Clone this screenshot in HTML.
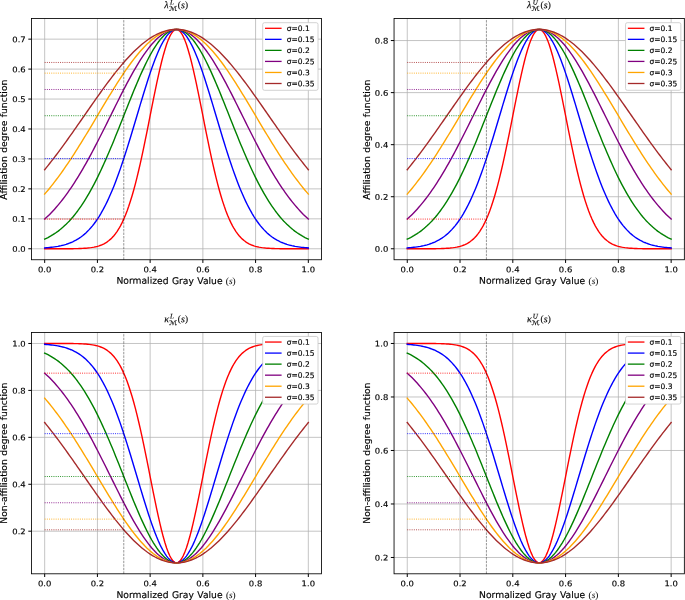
<!DOCTYPE html>
<html><head><meta charset="utf-8"><title>Affiliation and non-affiliation degree functions</title>
<style>html,body{margin:0;padding:0;background:#fff}svg{display:block}text{stroke:#000;stroke-width:0.16px;paint-order:stroke}.m text{stroke-width:0.13px}text .m{stroke-width:0.06px}</style></head>
<body>
<svg width="685" height="600" viewBox="0 0 685 600">
<rect width="685" height="600" fill="#fff"/>
<g>
<path d="M44.68 18.45V259.75M97.41 18.45V259.75M150.14 18.45V259.75M202.86 18.45V259.75M255.59 18.45V259.75M308.32 18.45V259.75M31.50 248.78H321.50M31.50 218.84H321.50M31.50 188.89H321.50M31.50 158.94H321.50M31.50 128.99H321.50M31.50 99.05H321.50M31.50 69.10H321.50M31.50 39.15H321.50" stroke="#b0b0b0" stroke-width="0.75" fill="none"/>
<polyline points="44.68,248.78 46.33,248.78 47.98,248.78 49.62,248.78 51.27,248.78 52.92,248.78 54.57,248.78 56.22,248.78 57.86,248.77 59.51,248.77 61.16,248.77 62.81,248.76 64.45,248.76 66.10,248.75 67.75,248.74 69.40,248.73 71.05,248.71 72.69,248.69 74.34,248.66 75.99,248.63 77.64,248.59 79.28,248.54 80.93,248.48 82.58,248.40 84.23,248.30 85.88,248.19 87.52,248.05 89.17,247.87 90.82,247.67 92.47,247.42 94.11,247.12 95.76,246.77 97.41,246.35 99.06,245.85 100.70,245.26 102.35,244.58 104.00,243.78 105.65,242.86 107.30,241.79 108.94,240.55 110.59,239.14 112.24,237.54 113.89,235.71 115.53,233.65 117.18,231.33 118.83,228.73 120.48,225.84 122.12,222.63 123.77,219.09 125.42,215.21 127.07,210.96 128.72,206.34 130.36,201.34 132.01,195.96 133.66,190.20 135.31,184.07 136.95,177.57 138.60,170.72 140.25,163.55 141.90,156.08 143.55,148.35 145.19,140.40 146.84,132.28 148.49,124.04 150.14,115.73 151.78,107.43 153.43,99.19 155.08,91.09 156.73,83.20 158.38,75.59 160.02,68.34 161.67,61.52 163.32,55.19 164.97,49.44 166.61,44.31 168.26,39.87 169.91,36.17 171.56,33.24 173.20,31.13 174.85,29.85 176.50,29.42 178.15,29.85 179.80,31.13 181.44,33.24 183.09,36.17 184.74,39.87 186.39,44.31 188.03,49.44 189.68,55.19 191.33,61.52 192.98,68.34 194.62,75.59 196.27,83.20 197.92,91.09 199.57,99.19 201.22,107.43 202.86,115.73 204.51,124.04 206.16,132.28 207.81,140.40 209.45,148.35 211.10,156.08 212.75,163.55 214.40,170.72 216.05,177.57 217.69,184.07 219.34,190.20 220.99,195.96 222.64,201.34 224.28,206.34 225.93,210.96 227.58,215.21 229.23,219.09 230.88,222.63 232.52,225.84 234.17,228.73 235.82,231.33 237.47,233.65 239.11,235.71 240.76,237.54 242.41,239.14 244.06,240.55 245.70,241.79 247.35,242.86 249.00,243.78 250.65,244.58 252.30,245.26 253.94,245.85 255.59,246.35 257.24,246.77 258.89,247.12 260.53,247.42 262.18,247.67 263.83,247.87 265.48,248.05 267.12,248.19 268.77,248.30 270.42,248.40 272.07,248.48 273.72,248.54 275.36,248.59 277.01,248.63 278.66,248.66 280.31,248.69 281.95,248.71 283.60,248.73 285.25,248.74 286.90,248.75 288.55,248.76 290.19,248.76 291.84,248.77 293.49,248.77 295.14,248.77 296.78,248.78 298.43,248.78 300.08,248.78 301.73,248.78 303.37,248.78 305.02,248.78 306.67,248.78 308.32,248.78" stroke="#ff0000" stroke-width="1.4" fill="none" stroke-linejoin="round" stroke-linecap="square"/>
<polyline points="44.68,247.93 46.33,247.81 47.98,247.67 49.62,247.51 51.27,247.32 52.92,247.12 54.57,246.89 56.22,246.63 57.86,246.35 59.51,246.02 61.16,245.66 62.81,245.26 64.45,244.82 66.10,244.33 67.75,243.78 69.40,243.18 71.05,242.52 72.69,241.79 74.34,240.98 75.99,240.11 77.64,239.14 79.28,238.10 80.93,236.95 82.58,235.71 84.23,234.36 85.88,232.91 87.52,231.33 89.17,229.63 90.82,227.80 92.47,225.84 94.11,223.74 95.76,221.49 97.41,219.09 99.06,216.54 100.70,213.83 102.35,210.96 104.00,207.92 105.65,204.72 107.30,201.34 108.94,197.80 110.59,194.08 112.24,190.20 113.89,186.15 115.53,181.94 117.18,177.57 118.83,173.04 120.48,168.36 122.12,163.55 123.77,158.60 125.42,153.53 127.07,148.35 128.72,143.07 130.36,137.71 132.01,132.28 133.66,126.79 135.31,121.27 136.95,115.73 138.60,110.19 140.25,104.67 141.90,99.19 143.55,93.77 145.19,88.43 146.84,83.20 148.49,78.09 150.14,73.13 151.78,68.34 153.43,63.74 155.08,59.35 156.73,55.19 158.38,51.29 160.02,47.66 161.67,44.31 163.32,41.27 164.97,38.55 166.61,36.17 168.26,34.13 169.91,32.44 171.56,31.13 173.20,30.18 174.85,29.61 176.50,29.42 178.15,29.61 179.80,30.18 181.44,31.13 183.09,32.44 184.74,34.13 186.39,36.17 188.03,38.55 189.68,41.27 191.33,44.31 192.98,47.66 194.62,51.29 196.27,55.19 197.92,59.35 199.57,63.74 201.22,68.34 202.86,73.13 204.51,78.09 206.16,83.20 207.81,88.43 209.45,93.77 211.10,99.19 212.75,104.67 214.40,110.19 216.05,115.73 217.69,121.27 219.34,126.79 220.99,132.28 222.64,137.71 224.28,143.07 225.93,148.35 227.58,153.53 229.23,158.60 230.88,163.55 232.52,168.36 234.17,173.04 235.82,177.57 237.47,181.94 239.11,186.15 240.76,190.20 242.41,194.08 244.06,197.80 245.70,201.34 247.35,204.72 249.00,207.92 250.65,210.96 252.30,213.83 253.94,216.54 255.59,219.09 257.24,221.49 258.89,223.74 260.53,225.84 262.18,227.80 263.83,229.63 265.48,231.33 267.12,232.91 268.77,234.36 270.42,235.71 272.07,236.95 273.72,238.10 275.36,239.14 277.01,240.11 278.66,240.98 280.31,241.79 281.95,242.52 283.60,243.18 285.25,243.78 286.90,244.33 288.55,244.82 290.19,245.26 291.84,245.66 293.49,246.02 295.14,246.35 296.78,246.63 298.43,246.89 300.08,247.12 301.73,247.32 303.37,247.51 305.02,247.67 306.67,247.81 308.32,247.93" stroke="#0000ff" stroke-width="1.4" fill="none" stroke-linejoin="round" stroke-linecap="square"/>
<polyline points="44.68,239.14 46.33,238.37 47.98,237.54 49.62,236.65 51.27,235.71 52.92,234.71 54.57,233.65 56.22,232.52 57.86,231.33 59.51,230.07 61.16,228.73 62.81,227.33 64.45,225.84 66.10,224.28 67.75,222.63 69.40,220.91 71.05,219.09 72.69,217.20 74.34,215.21 75.99,213.13 77.64,210.96 79.28,208.70 80.93,206.34 82.58,203.89 84.23,201.34 85.88,198.70 87.52,195.96 89.17,193.13 90.82,190.20 92.47,187.18 94.11,184.07 95.76,180.86 97.41,177.57 99.06,174.18 100.70,170.72 102.35,167.17 104.00,163.55 105.65,159.85 107.30,156.08 108.94,152.24 110.59,148.35 112.24,144.40 113.89,140.40 115.53,136.36 117.18,132.28 118.83,128.17 120.48,124.04 122.12,119.89 123.77,115.73 125.42,111.57 127.07,107.43 128.72,103.30 130.36,99.19 132.01,95.12 133.66,91.09 135.31,87.11 136.95,83.20 138.60,79.35 140.25,75.59 141.90,71.91 143.55,68.34 145.19,64.87 146.84,61.52 148.49,58.29 150.14,55.19 151.78,52.24 153.43,49.44 155.08,46.79 156.73,44.31 158.38,42.00 160.02,39.87 161.67,37.92 163.32,36.17 164.97,34.60 166.61,33.24 168.26,32.08 169.91,31.13 171.56,30.38 173.20,29.85 174.85,29.53 176.50,29.42 178.15,29.53 179.80,29.85 181.44,30.38 183.09,31.13 184.74,32.08 186.39,33.24 188.03,34.60 189.68,36.17 191.33,37.92 192.98,39.87 194.62,42.00 196.27,44.31 197.92,46.79 199.57,49.44 201.22,52.24 202.86,55.19 204.51,58.29 206.16,61.52 207.81,64.87 209.45,68.34 211.10,71.91 212.75,75.59 214.40,79.35 216.05,83.20 217.69,87.11 219.34,91.09 220.99,95.12 222.64,99.19 224.28,103.30 225.93,107.43 227.58,111.57 229.23,115.73 230.88,119.89 232.52,124.04 234.17,128.17 235.82,132.28 237.47,136.36 239.11,140.40 240.76,144.40 242.41,148.35 244.06,152.24 245.70,156.08 247.35,159.85 249.00,163.55 250.65,167.17 252.30,170.72 253.94,174.18 255.59,177.57 257.24,180.86 258.89,184.07 260.53,187.18 262.18,190.20 263.83,193.13 265.48,195.96 267.12,198.70 268.77,201.34 270.42,203.89 272.07,206.34 273.72,208.70 275.36,210.96 277.01,213.13 278.66,215.21 280.31,217.20 281.95,219.09 283.60,220.91 285.25,222.63 286.90,224.28 288.55,225.84 290.19,227.33 291.84,228.73 293.49,230.07 295.14,231.33 296.78,232.52 298.43,233.65 300.08,234.71 301.73,235.71 303.37,236.65 305.02,237.54 306.67,238.37 308.32,239.14" stroke="#008000" stroke-width="1.4" fill="none" stroke-linejoin="round" stroke-linecap="square"/>
<polyline points="44.68,219.09 46.33,217.58 47.98,216.01 49.62,214.39 51.27,212.70 52.92,210.96 54.57,209.16 56.22,207.29 57.86,205.37 59.51,203.39 61.16,201.34 62.81,199.24 64.45,197.07 66.10,194.84 67.75,192.55 69.40,190.20 71.05,187.79 72.69,185.32 74.34,182.79 75.99,180.21 77.64,177.57 79.28,174.87 80.93,172.11 82.58,169.31 84.23,166.45 85.88,163.55 87.52,160.59 89.17,157.59 90.82,154.55 92.47,151.47 94.11,148.35 95.76,145.19 97.41,142.01 99.06,138.79 100.70,135.55 102.35,132.28 104.00,128.99 105.65,125.69 107.30,122.38 108.94,119.06 110.59,115.73 112.24,112.41 113.89,109.08 115.53,105.77 117.18,102.47 118.83,99.19 120.48,95.93 122.12,92.69 123.77,89.49 125.42,86.32 127.07,83.20 128.72,80.12 130.36,77.09 132.01,74.11 133.66,71.19 135.31,68.34 136.95,65.55 138.60,62.84 140.25,60.21 141.90,57.66 143.55,55.19 145.19,52.82 146.84,50.54 148.49,48.36 150.14,46.28 151.78,44.31 153.43,42.45 155.08,40.70 156.73,39.07 158.38,37.56 160.02,36.17 161.67,34.90 163.32,33.76 164.97,32.75 166.61,31.87 168.26,31.13 169.91,30.51 171.56,30.03 173.20,29.69 174.85,29.49 176.50,29.42 178.15,29.49 179.80,29.69 181.44,30.03 183.09,30.51 184.74,31.13 186.39,31.87 188.03,32.75 189.68,33.76 191.33,34.90 192.98,36.17 194.62,37.56 196.27,39.07 197.92,40.70 199.57,42.45 201.22,44.31 202.86,46.28 204.51,48.36 206.16,50.54 207.81,52.82 209.45,55.19 211.10,57.66 212.75,60.21 214.40,62.84 216.05,65.55 217.69,68.34 219.34,71.19 220.99,74.11 222.64,77.09 224.28,80.12 225.93,83.20 227.58,86.32 229.23,89.49 230.88,92.69 232.52,95.93 234.17,99.19 235.82,102.47 237.47,105.77 239.11,109.08 240.76,112.41 242.41,115.73 244.06,119.06 245.70,122.38 247.35,125.69 249.00,128.99 250.65,132.28 252.30,135.55 253.94,138.79 255.59,142.01 257.24,145.19 258.89,148.35 260.53,151.47 262.18,154.55 263.83,157.59 265.48,160.59 267.12,163.55 268.77,166.45 270.42,169.31 272.07,172.11 273.72,174.87 275.36,177.57 277.01,180.21 278.66,182.79 280.31,185.32 281.95,187.79 283.60,190.20 285.25,192.55 286.90,194.84 288.55,197.07 290.19,199.24 291.84,201.34 293.49,203.39 295.14,205.37 296.78,207.29 298.43,209.16 300.08,210.96 301.73,212.70 303.37,214.39 305.02,216.01 306.67,217.58 308.32,219.09" stroke="#800080" stroke-width="1.4" fill="none" stroke-linejoin="round" stroke-linecap="square"/>
<polyline points="44.68,194.08 46.33,192.16 47.98,190.20 49.62,188.20 51.27,186.15 52.92,184.07 54.57,181.94 56.22,179.77 57.86,177.57 59.51,175.32 61.16,173.04 62.81,170.72 64.45,168.36 66.10,165.97 67.75,163.55 69.40,161.09 71.05,158.60 72.69,156.08 74.34,153.53 75.99,150.95 77.64,148.35 79.28,145.72 80.93,143.07 82.58,140.40 84.23,137.71 85.88,135.00 87.52,132.28 89.17,129.54 90.82,126.79 92.47,124.04 94.11,121.27 95.76,118.50 97.41,115.73 99.06,112.96 100.70,110.19 102.35,107.43 104.00,104.67 105.65,101.92 107.30,99.19 108.94,96.47 110.59,93.77 112.24,91.09 113.89,88.43 115.53,85.80 117.18,83.20 118.83,80.63 120.48,78.09 122.12,75.59 123.77,73.13 125.42,70.71 127.07,68.34 128.72,66.01 130.36,63.74 132.01,61.52 133.66,59.35 135.31,57.24 136.95,55.19 138.60,53.21 140.25,51.29 141.90,49.44 143.55,47.66 145.19,45.95 146.84,44.31 148.49,42.75 150.14,41.27 151.78,39.87 153.43,38.55 155.08,37.32 156.73,36.17 158.38,35.10 160.02,34.13 161.67,33.24 163.32,32.44 164.97,31.74 166.61,31.13 168.26,30.61 169.91,30.18 171.56,29.85 173.20,29.61 174.85,29.47 176.50,29.42 178.15,29.47 179.80,29.61 181.44,29.85 183.09,30.18 184.74,30.61 186.39,31.13 188.03,31.74 189.68,32.44 191.33,33.24 192.98,34.13 194.62,35.10 196.27,36.17 197.92,37.32 199.57,38.55 201.22,39.87 202.86,41.27 204.51,42.75 206.16,44.31 207.81,45.95 209.45,47.66 211.10,49.44 212.75,51.29 214.40,53.21 216.05,55.19 217.69,57.24 219.34,59.35 220.99,61.52 222.64,63.74 224.28,66.01 225.93,68.34 227.58,70.71 229.23,73.13 230.88,75.59 232.52,78.09 234.17,80.63 235.82,83.20 237.47,85.80 239.11,88.43 240.76,91.09 242.41,93.77 244.06,96.47 245.70,99.19 247.35,101.92 249.00,104.67 250.65,107.43 252.30,110.19 253.94,112.96 255.59,115.73 257.24,118.50 258.89,121.27 260.53,124.04 262.18,126.79 263.83,129.54 265.48,132.28 267.12,135.00 268.77,137.71 270.42,140.40 272.07,143.07 273.72,145.72 275.36,148.35 277.01,150.95 278.66,153.53 280.31,156.08 281.95,158.60 283.60,161.09 285.25,163.55 286.90,165.97 288.55,168.36 290.19,170.72 291.84,173.04 293.49,175.32 295.14,177.57 296.78,179.77 298.43,181.94 300.08,184.07 301.73,186.15 303.37,188.20 305.02,190.20 306.67,192.16 308.32,194.08" stroke="#ffa500" stroke-width="1.4" fill="none" stroke-linejoin="round" stroke-linecap="square"/>
<polyline points="44.68,169.71 46.33,167.68 47.98,165.63 49.62,163.55 51.27,161.44 52.92,159.31 54.57,157.16 56.22,154.99 57.86,152.80 59.51,150.58 61.16,148.35 62.81,146.10 64.45,143.83 66.10,141.55 67.75,139.25 69.40,136.94 71.05,134.61 72.69,132.28 74.34,129.93 75.99,127.58 77.64,125.22 79.28,122.85 80.93,120.48 82.58,118.11 84.23,115.73 85.88,113.36 87.52,110.98 89.17,108.61 90.82,106.24 92.47,103.88 94.11,101.53 95.76,99.19 97.41,96.86 99.06,94.54 100.70,92.23 102.35,89.95 104.00,87.68 105.65,85.43 107.30,83.20 108.94,80.99 110.59,78.81 112.24,76.66 113.89,74.53 115.53,72.43 117.18,70.37 118.83,68.34 120.48,66.34 122.12,64.38 123.77,62.46 125.42,60.58 127.07,58.74 128.72,56.95 130.36,55.19 132.01,53.49 133.66,51.83 135.31,50.22 136.95,48.67 138.60,47.16 140.25,45.71 141.90,44.31 143.55,42.97 145.19,41.69 146.84,40.46 148.49,39.30 150.14,38.19 151.78,37.15 153.43,36.17 155.08,35.25 156.73,34.40 158.38,33.61 160.02,32.89 161.67,32.23 163.32,31.65 164.97,31.13 166.61,30.67 168.26,30.29 169.91,29.98 171.56,29.73 173.20,29.56 174.85,29.45 176.50,29.42 178.15,29.45 179.80,29.56 181.44,29.73 183.09,29.98 184.74,30.29 186.39,30.67 188.03,31.13 189.68,31.65 191.33,32.23 192.98,32.89 194.62,33.61 196.27,34.40 197.92,35.25 199.57,36.17 201.22,37.15 202.86,38.19 204.51,39.30 206.16,40.46 207.81,41.69 209.45,42.97 211.10,44.31 212.75,45.71 214.40,47.16 216.05,48.67 217.69,50.22 219.34,51.83 220.99,53.49 222.64,55.19 224.28,56.95 225.93,58.74 227.58,60.58 229.23,62.46 230.88,64.38 232.52,66.34 234.17,68.34 235.82,70.37 237.47,72.43 239.11,74.53 240.76,76.66 242.41,78.81 244.06,80.99 245.70,83.20 247.35,85.43 249.00,87.68 250.65,89.95 252.30,92.23 253.94,94.54 255.59,96.86 257.24,99.19 258.89,101.53 260.53,103.88 262.18,106.24 263.83,108.61 265.48,110.98 267.12,113.36 268.77,115.73 270.42,118.11 272.07,120.48 273.72,122.85 275.36,125.22 277.01,127.58 278.66,129.93 280.31,132.28 281.95,134.61 283.60,136.94 285.25,139.25 286.90,141.55 288.55,143.83 290.19,146.10 291.84,148.35 293.49,150.58 295.14,152.80 296.78,154.99 298.43,157.16 300.08,159.31 301.73,161.44 303.37,163.55 305.02,165.63 306.67,167.68 308.32,169.71" stroke="#a52a2a" stroke-width="1.4" fill="none" stroke-linejoin="round" stroke-linecap="square"/>
<path d="M44.68 219.09H123.77" stroke="#ff0000" stroke-width="0.85" stroke-dasharray="0.95 1.25" fill="none"/>
<path d="M44.68 158.60H123.77" stroke="#0000ff" stroke-width="0.85" stroke-dasharray="0.95 1.25" fill="none"/>
<path d="M44.68 115.73H123.77" stroke="#008000" stroke-width="0.85" stroke-dasharray="0.95 1.25" fill="none"/>
<path d="M44.68 89.49H123.77" stroke="#800080" stroke-width="0.85" stroke-dasharray="0.95 1.25" fill="none"/>
<path d="M44.68 73.13H123.77" stroke="#ffa500" stroke-width="0.85" stroke-dasharray="0.95 1.25" fill="none"/>
<path d="M44.68 62.46H123.77" stroke="#a52a2a" stroke-width="0.85" stroke-dasharray="0.95 1.25" fill="none"/>
<path d="M123.77 259.75V18.45" stroke="#000" stroke-opacity="0.7" stroke-width="0.6" stroke-dasharray="2.47 1.07" fill="none"/>
<path d="M44.68 259.75v3.2M97.41 259.75v3.2M150.14 259.75v3.2M202.86 259.75v3.2M255.59 259.75v3.2M308.32 259.75v3.2M31.50 248.78h-3.2M31.50 218.84h-3.2M31.50 188.89h-3.2M31.50 158.94h-3.2M31.50 128.99h-3.2M31.50 99.05h-3.2M31.50 69.10h-3.2M31.50 39.15h-3.2" stroke="#000" stroke-width="1" fill="none"/>
<rect x="31.50" y="18.45" width="290.00" height="241.30" fill="none" stroke="#000" stroke-width="0.85"/>
<g font-family="'DejaVu Sans', 'Liberation Sans', sans-serif" font-size="7.8" fill="#000">
<text x="44.68" y="272.15" transform="rotate(0.04 44.68 272.15)" text-anchor="middle" textLength="13.4" lengthAdjust="spacingAndGlyphs">0.0</text>
<text x="97.41" y="272.15" transform="rotate(0.04 97.41 272.15)" text-anchor="middle" textLength="13.4" lengthAdjust="spacingAndGlyphs">0.2</text>
<text x="150.14" y="272.15" transform="rotate(0.04 150.14 272.15)" text-anchor="middle" textLength="13.4" lengthAdjust="spacingAndGlyphs">0.4</text>
<text x="202.86" y="272.15" transform="rotate(0.04 202.86 272.15)" text-anchor="middle" textLength="13.4" lengthAdjust="spacingAndGlyphs">0.6</text>
<text x="255.59" y="272.15" transform="rotate(0.04 255.59 272.15)" text-anchor="middle" textLength="13.4" lengthAdjust="spacingAndGlyphs">0.8</text>
<text x="308.32" y="272.15" transform="rotate(0.04 308.32 272.15)" text-anchor="middle" textLength="13.4" lengthAdjust="spacingAndGlyphs">1.0</text>
<text x="25.70" y="251.83" transform="rotate(0.04 25.70 251.83)" text-anchor="end" textLength="13.4" lengthAdjust="spacingAndGlyphs">0.0</text>
<text x="25.70" y="221.89" transform="rotate(0.04 25.70 221.89)" text-anchor="end" textLength="13.4" lengthAdjust="spacingAndGlyphs">0.1</text>
<text x="25.70" y="191.94" transform="rotate(0.04 25.70 191.94)" text-anchor="end" textLength="13.4" lengthAdjust="spacingAndGlyphs">0.2</text>
<text x="25.70" y="161.99" transform="rotate(0.04 25.70 161.99)" text-anchor="end" textLength="13.4" lengthAdjust="spacingAndGlyphs">0.3</text>
<text x="25.70" y="132.04" transform="rotate(0.04 25.70 132.04)" text-anchor="end" textLength="13.4" lengthAdjust="spacingAndGlyphs">0.4</text>
<text x="25.70" y="102.10" transform="rotate(0.04 25.70 102.10)" text-anchor="end" textLength="13.4" lengthAdjust="spacingAndGlyphs">0.5</text>
<text x="25.70" y="72.15" transform="rotate(0.04 25.70 72.15)" text-anchor="end" textLength="13.4" lengthAdjust="spacingAndGlyphs">0.6</text>
<text x="25.70" y="42.20" transform="rotate(0.04 25.70 42.20)" text-anchor="end" textLength="13.4" lengthAdjust="spacingAndGlyphs">0.7</text>
</g>
<text x="176.00" y="283.90" transform="rotate(0.04 176.00 283.90)" text-anchor="middle" word-spacing="0.5" font-family="'DejaVu Sans', 'Liberation Sans', sans-serif" font-size="9.2" fill="#000">Normalized Gray Value <tspan font-family="'Liberation Serif', 'DejaVu Serif', serif" font-size="9.2" dx="-0.1" class="m">(<tspan font-style="italic">s</tspan>)</tspan></text>
<text transform="translate(7.30 139.70) rotate(-90)" text-anchor="middle" word-spacing="0.5" font-family="'DejaVu Sans', 'Liberation Sans', sans-serif" font-size="9.2" fill="#000">Affiliation degree function</text>
<g class="m" fill="#000" font-size="10">
<text x="164.30" y="8.15" transform="rotate(0.04 164.30 8.15)" font-family="'Liberation Serif', 'DejaVu Serif', serif" font-style="italic">λ</text>
<text x="170.00" y="4.45" transform="rotate(0.04 170.00 4.45)" font-family="'Liberation Serif', 'DejaVu Serif', serif" font-style="italic" font-size="7">L</text>
<text x="168.90" y="10.85" transform="rotate(0.04 168.90 10.85)" font-family="'DejaVu Sans', 'DejaVu Math TeX Gyre', 'Liberation Serif', serif" font-size="6.5" textLength="8.1" lengthAdjust="spacingAndGlyphs" style="stroke-width:0.14px">ℳ</text>
<text x="177.70" y="7.65" transform="rotate(0.04 177.70 7.65)" font-family="'Liberation Serif', 'DejaVu Serif', serif" font-size="9.2">(</text>
<text x="181.10" y="8.15" transform="rotate(0.04 181.10 8.15)" font-family="'Liberation Serif', 'DejaVu Serif', serif" font-style="italic">s</text>
<text x="185.10" y="7.65" transform="rotate(0.04 185.10 7.65)" font-family="'Liberation Serif', 'DejaVu Serif', serif" font-size="9.2">)</text>
</g>
<rect x="262.70" y="22.70" width="55.3" height="67.6" rx="1.7" fill="#fff" stroke="#c6c6c6" stroke-width="0.8"/>
<g font-family="'DejaVu Sans', 'Liberation Sans', sans-serif" font-size="7.5" fill="#000">
<path d="M265.00 28.30h16.6" stroke="#ff0000" stroke-width="1.3"/>
<text x="286.70" y="31.00" transform="rotate(0.04 286.70 31.00)" >σ=0.1</text>
<path d="M265.00 39.34h16.6" stroke="#0000ff" stroke-width="1.3"/>
<text x="286.70" y="42.04" transform="rotate(0.04 286.70 42.04)" >σ=0.15</text>
<path d="M265.00 50.38h16.6" stroke="#008000" stroke-width="1.3"/>
<text x="286.70" y="53.08" transform="rotate(0.04 286.70 53.08)" >σ=0.2</text>
<path d="M265.00 61.42h16.6" stroke="#800080" stroke-width="1.3"/>
<text x="286.70" y="64.12" transform="rotate(0.04 286.70 64.12)" >σ=0.25</text>
<path d="M265.00 72.46h16.6" stroke="#ffa500" stroke-width="1.3"/>
<text x="286.70" y="75.16" transform="rotate(0.04 286.70 75.16)" >σ=0.3</text>
<path d="M265.00 83.50h16.6" stroke="#a52a2a" stroke-width="1.3"/>
<text x="286.70" y="86.20" transform="rotate(0.04 286.70 86.20)" >σ=0.35</text>
</g>
</g>
<g>
<path d="M407.25 18.45V259.75M460.03 18.45V259.75M512.81 18.45V259.75M565.59 18.45V259.75M618.37 18.45V259.75M671.15 18.45V259.75M394.05 248.78H684.35M394.05 196.73H684.35M394.05 144.67H684.35M394.05 92.61H684.35M394.05 40.56H684.35" stroke="#b0b0b0" stroke-width="0.75" fill="none"/>
<polyline points="407.25,248.78 408.89,248.78 410.54,248.78 412.19,248.78 413.84,248.78 415.49,248.78 417.14,248.78 418.79,248.78 420.44,248.77 422.09,248.77 423.74,248.77 425.39,248.76 427.04,248.76 428.69,248.75 430.34,248.74 431.99,248.73 433.64,248.71 435.29,248.69 436.94,248.66 438.58,248.63 440.23,248.59 441.88,248.54 443.53,248.48 445.18,248.40 446.83,248.30 448.48,248.19 450.13,248.05 451.78,247.87 453.43,247.67 455.08,247.42 456.73,247.12 458.38,246.77 460.03,246.35 461.68,245.85 463.33,245.26 464.98,244.58 466.62,243.78 468.27,242.86 469.92,241.79 471.57,240.55 473.22,239.14 474.87,237.54 476.52,235.71 478.17,233.65 479.82,231.33 481.47,228.73 483.12,225.84 484.77,222.63 486.42,219.09 488.07,215.21 489.72,210.96 491.37,206.34 493.02,201.34 494.67,195.96 496.31,190.20 497.96,184.07 499.61,177.57 501.26,170.72 502.91,163.55 504.56,156.08 506.21,148.35 507.86,140.40 509.51,132.28 511.16,124.04 512.81,115.73 514.46,107.43 516.11,99.19 517.76,91.09 519.41,83.20 521.06,75.59 522.71,68.34 524.36,61.52 526.00,55.19 527.65,49.44 529.30,44.31 530.95,39.87 532.60,36.17 534.25,33.24 535.90,31.13 537.55,29.85 539.20,29.42 540.85,29.85 542.50,31.13 544.15,33.24 545.80,36.17 547.45,39.87 549.10,44.31 550.75,49.44 552.40,55.19 554.04,61.52 555.69,68.34 557.34,75.59 558.99,83.20 560.64,91.09 562.29,99.19 563.94,107.43 565.59,115.73 567.24,124.04 568.89,132.28 570.54,140.40 572.19,148.35 573.84,156.08 575.49,163.55 577.14,170.72 578.79,177.57 580.44,184.07 582.09,190.20 583.73,195.96 585.38,201.34 587.03,206.34 588.68,210.96 590.33,215.21 591.98,219.09 593.63,222.63 595.28,225.84 596.93,228.73 598.58,231.33 600.23,233.65 601.88,235.71 603.53,237.54 605.18,239.14 606.83,240.55 608.48,241.79 610.13,242.86 611.78,243.78 613.42,244.58 615.07,245.26 616.72,245.85 618.37,246.35 620.02,246.77 621.67,247.12 623.32,247.42 624.97,247.67 626.62,247.87 628.27,248.05 629.92,248.19 631.57,248.30 633.22,248.40 634.87,248.48 636.52,248.54 638.17,248.59 639.82,248.63 641.46,248.66 643.11,248.69 644.76,248.71 646.41,248.73 648.06,248.74 649.71,248.75 651.36,248.76 653.01,248.76 654.66,248.77 656.31,248.77 657.96,248.77 659.61,248.78 661.26,248.78 662.91,248.78 664.56,248.78 666.21,248.78 667.86,248.78 669.51,248.78 671.15,248.78" stroke="#ff0000" stroke-width="1.4" fill="none" stroke-linejoin="round" stroke-linecap="square"/>
<polyline points="407.25,247.93 408.89,247.81 410.54,247.67 412.19,247.51 413.84,247.32 415.49,247.12 417.14,246.89 418.79,246.63 420.44,246.35 422.09,246.02 423.74,245.66 425.39,245.26 427.04,244.82 428.69,244.33 430.34,243.78 431.99,243.18 433.64,242.52 435.29,241.79 436.94,240.98 438.58,240.11 440.23,239.14 441.88,238.10 443.53,236.95 445.18,235.71 446.83,234.36 448.48,232.91 450.13,231.33 451.78,229.63 453.43,227.80 455.08,225.84 456.73,223.74 458.38,221.49 460.03,219.09 461.68,216.54 463.33,213.83 464.98,210.96 466.62,207.92 468.27,204.72 469.92,201.34 471.57,197.80 473.22,194.08 474.87,190.20 476.52,186.15 478.17,181.94 479.82,177.57 481.47,173.04 483.12,168.36 484.77,163.55 486.42,158.60 488.07,153.53 489.72,148.35 491.37,143.07 493.02,137.71 494.67,132.28 496.31,126.79 497.96,121.27 499.61,115.73 501.26,110.19 502.91,104.67 504.56,99.19 506.21,93.77 507.86,88.43 509.51,83.20 511.16,78.09 512.81,73.13 514.46,68.34 516.11,63.74 517.76,59.35 519.41,55.19 521.06,51.29 522.71,47.66 524.36,44.31 526.00,41.27 527.65,38.55 529.30,36.17 530.95,34.13 532.60,32.44 534.25,31.13 535.90,30.18 537.55,29.61 539.20,29.42 540.85,29.61 542.50,30.18 544.15,31.13 545.80,32.44 547.45,34.13 549.10,36.17 550.75,38.55 552.40,41.27 554.04,44.31 555.69,47.66 557.34,51.29 558.99,55.19 560.64,59.35 562.29,63.74 563.94,68.34 565.59,73.13 567.24,78.09 568.89,83.20 570.54,88.43 572.19,93.77 573.84,99.19 575.49,104.67 577.14,110.19 578.79,115.73 580.44,121.27 582.09,126.79 583.73,132.28 585.38,137.71 587.03,143.07 588.68,148.35 590.33,153.53 591.98,158.60 593.63,163.55 595.28,168.36 596.93,173.04 598.58,177.57 600.23,181.94 601.88,186.15 603.53,190.20 605.18,194.08 606.83,197.80 608.48,201.34 610.13,204.72 611.78,207.92 613.42,210.96 615.07,213.83 616.72,216.54 618.37,219.09 620.02,221.49 621.67,223.74 623.32,225.84 624.97,227.80 626.62,229.63 628.27,231.33 629.92,232.91 631.57,234.36 633.22,235.71 634.87,236.95 636.52,238.10 638.17,239.14 639.82,240.11 641.46,240.98 643.11,241.79 644.76,242.52 646.41,243.18 648.06,243.78 649.71,244.33 651.36,244.82 653.01,245.26 654.66,245.66 656.31,246.02 657.96,246.35 659.61,246.63 661.26,246.89 662.91,247.12 664.56,247.32 666.21,247.51 667.86,247.67 669.51,247.81 671.15,247.93" stroke="#0000ff" stroke-width="1.4" fill="none" stroke-linejoin="round" stroke-linecap="square"/>
<polyline points="407.25,239.14 408.89,238.37 410.54,237.54 412.19,236.65 413.84,235.71 415.49,234.71 417.14,233.65 418.79,232.52 420.44,231.33 422.09,230.07 423.74,228.73 425.39,227.33 427.04,225.84 428.69,224.28 430.34,222.63 431.99,220.91 433.64,219.09 435.29,217.20 436.94,215.21 438.58,213.13 440.23,210.96 441.88,208.70 443.53,206.34 445.18,203.89 446.83,201.34 448.48,198.70 450.13,195.96 451.78,193.13 453.43,190.20 455.08,187.18 456.73,184.07 458.38,180.86 460.03,177.57 461.68,174.18 463.33,170.72 464.98,167.17 466.62,163.55 468.27,159.85 469.92,156.08 471.57,152.24 473.22,148.35 474.87,144.40 476.52,140.40 478.17,136.36 479.82,132.28 481.47,128.17 483.12,124.04 484.77,119.89 486.42,115.73 488.07,111.57 489.72,107.43 491.37,103.30 493.02,99.19 494.67,95.12 496.31,91.09 497.96,87.11 499.61,83.20 501.26,79.35 502.91,75.59 504.56,71.91 506.21,68.34 507.86,64.87 509.51,61.52 511.16,58.29 512.81,55.19 514.46,52.24 516.11,49.44 517.76,46.79 519.41,44.31 521.06,42.00 522.71,39.87 524.36,37.92 526.00,36.17 527.65,34.60 529.30,33.24 530.95,32.08 532.60,31.13 534.25,30.38 535.90,29.85 537.55,29.53 539.20,29.42 540.85,29.53 542.50,29.85 544.15,30.38 545.80,31.13 547.45,32.08 549.10,33.24 550.75,34.60 552.40,36.17 554.04,37.92 555.69,39.87 557.34,42.00 558.99,44.31 560.64,46.79 562.29,49.44 563.94,52.24 565.59,55.19 567.24,58.29 568.89,61.52 570.54,64.87 572.19,68.34 573.84,71.91 575.49,75.59 577.14,79.35 578.79,83.20 580.44,87.11 582.09,91.09 583.73,95.12 585.38,99.19 587.03,103.30 588.68,107.43 590.33,111.57 591.98,115.73 593.63,119.89 595.28,124.04 596.93,128.17 598.58,132.28 600.23,136.36 601.88,140.40 603.53,144.40 605.18,148.35 606.83,152.24 608.48,156.08 610.13,159.85 611.78,163.55 613.42,167.17 615.07,170.72 616.72,174.18 618.37,177.57 620.02,180.86 621.67,184.07 623.32,187.18 624.97,190.20 626.62,193.13 628.27,195.96 629.92,198.70 631.57,201.34 633.22,203.89 634.87,206.34 636.52,208.70 638.17,210.96 639.82,213.13 641.46,215.21 643.11,217.20 644.76,219.09 646.41,220.91 648.06,222.63 649.71,224.28 651.36,225.84 653.01,227.33 654.66,228.73 656.31,230.07 657.96,231.33 659.61,232.52 661.26,233.65 662.91,234.71 664.56,235.71 666.21,236.65 667.86,237.54 669.51,238.37 671.15,239.14" stroke="#008000" stroke-width="1.4" fill="none" stroke-linejoin="round" stroke-linecap="square"/>
<polyline points="407.25,219.09 408.89,217.58 410.54,216.01 412.19,214.39 413.84,212.70 415.49,210.96 417.14,209.16 418.79,207.29 420.44,205.37 422.09,203.39 423.74,201.34 425.39,199.24 427.04,197.07 428.69,194.84 430.34,192.55 431.99,190.20 433.64,187.79 435.29,185.32 436.94,182.79 438.58,180.21 440.23,177.57 441.88,174.87 443.53,172.11 445.18,169.31 446.83,166.45 448.48,163.55 450.13,160.59 451.78,157.59 453.43,154.55 455.08,151.47 456.73,148.35 458.38,145.19 460.03,142.01 461.68,138.79 463.33,135.55 464.98,132.28 466.62,128.99 468.27,125.69 469.92,122.38 471.57,119.06 473.22,115.73 474.87,112.41 476.52,109.08 478.17,105.77 479.82,102.47 481.47,99.19 483.12,95.93 484.77,92.69 486.42,89.49 488.07,86.32 489.72,83.20 491.37,80.12 493.02,77.09 494.67,74.11 496.31,71.19 497.96,68.34 499.61,65.55 501.26,62.84 502.91,60.21 504.56,57.66 506.21,55.19 507.86,52.82 509.51,50.54 511.16,48.36 512.81,46.28 514.46,44.31 516.11,42.45 517.76,40.70 519.41,39.07 521.06,37.56 522.71,36.17 524.36,34.90 526.00,33.76 527.65,32.75 529.30,31.87 530.95,31.13 532.60,30.51 534.25,30.03 535.90,29.69 537.55,29.49 539.20,29.42 540.85,29.49 542.50,29.69 544.15,30.03 545.80,30.51 547.45,31.13 549.10,31.87 550.75,32.75 552.40,33.76 554.04,34.90 555.69,36.17 557.34,37.56 558.99,39.07 560.64,40.70 562.29,42.45 563.94,44.31 565.59,46.28 567.24,48.36 568.89,50.54 570.54,52.82 572.19,55.19 573.84,57.66 575.49,60.21 577.14,62.84 578.79,65.55 580.44,68.34 582.09,71.19 583.73,74.11 585.38,77.09 587.03,80.12 588.68,83.20 590.33,86.32 591.98,89.49 593.63,92.69 595.28,95.93 596.93,99.19 598.58,102.47 600.23,105.77 601.88,109.08 603.53,112.41 605.18,115.73 606.83,119.06 608.48,122.38 610.13,125.69 611.78,128.99 613.42,132.28 615.07,135.55 616.72,138.79 618.37,142.01 620.02,145.19 621.67,148.35 623.32,151.47 624.97,154.55 626.62,157.59 628.27,160.59 629.92,163.55 631.57,166.45 633.22,169.31 634.87,172.11 636.52,174.87 638.17,177.57 639.82,180.21 641.46,182.79 643.11,185.32 644.76,187.79 646.41,190.20 648.06,192.55 649.71,194.84 651.36,197.07 653.01,199.24 654.66,201.34 656.31,203.39 657.96,205.37 659.61,207.29 661.26,209.16 662.91,210.96 664.56,212.70 666.21,214.39 667.86,216.01 669.51,217.58 671.15,219.09" stroke="#800080" stroke-width="1.4" fill="none" stroke-linejoin="round" stroke-linecap="square"/>
<polyline points="407.25,194.08 408.89,192.16 410.54,190.20 412.19,188.20 413.84,186.15 415.49,184.07 417.14,181.94 418.79,179.77 420.44,177.57 422.09,175.32 423.74,173.04 425.39,170.72 427.04,168.36 428.69,165.97 430.34,163.55 431.99,161.09 433.64,158.60 435.29,156.08 436.94,153.53 438.58,150.95 440.23,148.35 441.88,145.72 443.53,143.07 445.18,140.40 446.83,137.71 448.48,135.00 450.13,132.28 451.78,129.54 453.43,126.79 455.08,124.04 456.73,121.27 458.38,118.50 460.03,115.73 461.68,112.96 463.33,110.19 464.98,107.43 466.62,104.67 468.27,101.92 469.92,99.19 471.57,96.47 473.22,93.77 474.87,91.09 476.52,88.43 478.17,85.80 479.82,83.20 481.47,80.63 483.12,78.09 484.77,75.59 486.42,73.13 488.07,70.71 489.72,68.34 491.37,66.01 493.02,63.74 494.67,61.52 496.31,59.35 497.96,57.24 499.61,55.19 501.26,53.21 502.91,51.29 504.56,49.44 506.21,47.66 507.86,45.95 509.51,44.31 511.16,42.75 512.81,41.27 514.46,39.87 516.11,38.55 517.76,37.32 519.41,36.17 521.06,35.10 522.71,34.13 524.36,33.24 526.00,32.44 527.65,31.74 529.30,31.13 530.95,30.61 532.60,30.18 534.25,29.85 535.90,29.61 537.55,29.47 539.20,29.42 540.85,29.47 542.50,29.61 544.15,29.85 545.80,30.18 547.45,30.61 549.10,31.13 550.75,31.74 552.40,32.44 554.04,33.24 555.69,34.13 557.34,35.10 558.99,36.17 560.64,37.32 562.29,38.55 563.94,39.87 565.59,41.27 567.24,42.75 568.89,44.31 570.54,45.95 572.19,47.66 573.84,49.44 575.49,51.29 577.14,53.21 578.79,55.19 580.44,57.24 582.09,59.35 583.73,61.52 585.38,63.74 587.03,66.01 588.68,68.34 590.33,70.71 591.98,73.13 593.63,75.59 595.28,78.09 596.93,80.63 598.58,83.20 600.23,85.80 601.88,88.43 603.53,91.09 605.18,93.77 606.83,96.47 608.48,99.19 610.13,101.92 611.78,104.67 613.42,107.43 615.07,110.19 616.72,112.96 618.37,115.73 620.02,118.50 621.67,121.27 623.32,124.04 624.97,126.79 626.62,129.54 628.27,132.28 629.92,135.00 631.57,137.71 633.22,140.40 634.87,143.07 636.52,145.72 638.17,148.35 639.82,150.95 641.46,153.53 643.11,156.08 644.76,158.60 646.41,161.09 648.06,163.55 649.71,165.97 651.36,168.36 653.01,170.72 654.66,173.04 656.31,175.32 657.96,177.57 659.61,179.77 661.26,181.94 662.91,184.07 664.56,186.15 666.21,188.20 667.86,190.20 669.51,192.16 671.15,194.08" stroke="#ffa500" stroke-width="1.4" fill="none" stroke-linejoin="round" stroke-linecap="square"/>
<polyline points="407.25,169.71 408.89,167.68 410.54,165.63 412.19,163.55 413.84,161.44 415.49,159.31 417.14,157.16 418.79,154.99 420.44,152.80 422.09,150.58 423.74,148.35 425.39,146.10 427.04,143.83 428.69,141.55 430.34,139.25 431.99,136.94 433.64,134.61 435.29,132.28 436.94,129.93 438.58,127.58 440.23,125.22 441.88,122.85 443.53,120.48 445.18,118.11 446.83,115.73 448.48,113.36 450.13,110.98 451.78,108.61 453.43,106.24 455.08,103.88 456.73,101.53 458.38,99.19 460.03,96.86 461.68,94.54 463.33,92.23 464.98,89.95 466.62,87.68 468.27,85.43 469.92,83.20 471.57,80.99 473.22,78.81 474.87,76.66 476.52,74.53 478.17,72.43 479.82,70.37 481.47,68.34 483.12,66.34 484.77,64.38 486.42,62.46 488.07,60.58 489.72,58.74 491.37,56.95 493.02,55.19 494.67,53.49 496.31,51.83 497.96,50.22 499.61,48.67 501.26,47.16 502.91,45.71 504.56,44.31 506.21,42.97 507.86,41.69 509.51,40.46 511.16,39.30 512.81,38.19 514.46,37.15 516.11,36.17 517.76,35.25 519.41,34.40 521.06,33.61 522.71,32.89 524.36,32.23 526.00,31.65 527.65,31.13 529.30,30.67 530.95,30.29 532.60,29.98 534.25,29.73 535.90,29.56 537.55,29.45 539.20,29.42 540.85,29.45 542.50,29.56 544.15,29.73 545.80,29.98 547.45,30.29 549.10,30.67 550.75,31.13 552.40,31.65 554.04,32.23 555.69,32.89 557.34,33.61 558.99,34.40 560.64,35.25 562.29,36.17 563.94,37.15 565.59,38.19 567.24,39.30 568.89,40.46 570.54,41.69 572.19,42.97 573.84,44.31 575.49,45.71 577.14,47.16 578.79,48.67 580.44,50.22 582.09,51.83 583.73,53.49 585.38,55.19 587.03,56.95 588.68,58.74 590.33,60.58 591.98,62.46 593.63,64.38 595.28,66.34 596.93,68.34 598.58,70.37 600.23,72.43 601.88,74.53 603.53,76.66 605.18,78.81 606.83,80.99 608.48,83.20 610.13,85.43 611.78,87.68 613.42,89.95 615.07,92.23 616.72,94.54 618.37,96.86 620.02,99.19 621.67,101.53 623.32,103.88 624.97,106.24 626.62,108.61 628.27,110.98 629.92,113.36 631.57,115.73 633.22,118.11 634.87,120.48 636.52,122.85 638.17,125.22 639.82,127.58 641.46,129.93 643.11,132.28 644.76,134.61 646.41,136.94 648.06,139.25 649.71,141.55 651.36,143.83 653.01,146.10 654.66,148.35 656.31,150.58 657.96,152.80 659.61,154.99 661.26,157.16 662.91,159.31 664.56,161.44 666.21,163.55 667.86,165.63 669.51,167.68 671.15,169.71" stroke="#a52a2a" stroke-width="1.4" fill="none" stroke-linejoin="round" stroke-linecap="square"/>
<path d="M407.25 219.09H486.42" stroke="#ff0000" stroke-width="0.85" stroke-dasharray="0.95 1.25" fill="none"/>
<path d="M407.25 158.60H486.42" stroke="#0000ff" stroke-width="0.85" stroke-dasharray="0.95 1.25" fill="none"/>
<path d="M407.25 115.73H486.42" stroke="#008000" stroke-width="0.85" stroke-dasharray="0.95 1.25" fill="none"/>
<path d="M407.25 89.49H486.42" stroke="#800080" stroke-width="0.85" stroke-dasharray="0.95 1.25" fill="none"/>
<path d="M407.25 73.13H486.42" stroke="#ffa500" stroke-width="0.85" stroke-dasharray="0.95 1.25" fill="none"/>
<path d="M407.25 62.46H486.42" stroke="#a52a2a" stroke-width="0.85" stroke-dasharray="0.95 1.25" fill="none"/>
<path d="M486.42 259.75V18.45" stroke="#000" stroke-opacity="0.7" stroke-width="0.6" stroke-dasharray="2.47 1.07" fill="none"/>
<path d="M407.25 259.75v3.2M460.03 259.75v3.2M512.81 259.75v3.2M565.59 259.75v3.2M618.37 259.75v3.2M671.15 259.75v3.2M394.05 248.78h-3.2M394.05 196.73h-3.2M394.05 144.67h-3.2M394.05 92.61h-3.2M394.05 40.56h-3.2" stroke="#000" stroke-width="1" fill="none"/>
<rect x="394.05" y="18.45" width="290.30" height="241.30" fill="none" stroke="#000" stroke-width="0.85"/>
<g font-family="'DejaVu Sans', 'Liberation Sans', sans-serif" font-size="7.8" fill="#000">
<text x="407.25" y="272.15" transform="rotate(0.04 407.25 272.15)" text-anchor="middle" textLength="13.4" lengthAdjust="spacingAndGlyphs">0.0</text>
<text x="460.03" y="272.15" transform="rotate(0.04 460.03 272.15)" text-anchor="middle" textLength="13.4" lengthAdjust="spacingAndGlyphs">0.2</text>
<text x="512.81" y="272.15" transform="rotate(0.04 512.81 272.15)" text-anchor="middle" textLength="13.4" lengthAdjust="spacingAndGlyphs">0.4</text>
<text x="565.59" y="272.15" transform="rotate(0.04 565.59 272.15)" text-anchor="middle" textLength="13.4" lengthAdjust="spacingAndGlyphs">0.6</text>
<text x="618.37" y="272.15" transform="rotate(0.04 618.37 272.15)" text-anchor="middle" textLength="13.4" lengthAdjust="spacingAndGlyphs">0.8</text>
<text x="671.15" y="272.15" transform="rotate(0.04 671.15 272.15)" text-anchor="middle" textLength="13.4" lengthAdjust="spacingAndGlyphs">1.0</text>
<text x="388.25" y="251.83" transform="rotate(0.04 388.25 251.83)" text-anchor="end" textLength="13.4" lengthAdjust="spacingAndGlyphs">0.0</text>
<text x="388.25" y="199.78" transform="rotate(0.04 388.25 199.78)" text-anchor="end" textLength="13.4" lengthAdjust="spacingAndGlyphs">0.2</text>
<text x="388.25" y="147.72" transform="rotate(0.04 388.25 147.72)" text-anchor="end" textLength="13.4" lengthAdjust="spacingAndGlyphs">0.4</text>
<text x="388.25" y="95.66" transform="rotate(0.04 388.25 95.66)" text-anchor="end" textLength="13.4" lengthAdjust="spacingAndGlyphs">0.6</text>
<text x="388.25" y="43.61" transform="rotate(0.04 388.25 43.61)" text-anchor="end" textLength="13.4" lengthAdjust="spacingAndGlyphs">0.8</text>
</g>
<text x="538.70" y="283.90" transform="rotate(0.04 538.70 283.90)" text-anchor="middle" word-spacing="0.5" font-family="'DejaVu Sans', 'Liberation Sans', sans-serif" font-size="9.2" fill="#000">Normalized Gray Value <tspan font-family="'Liberation Serif', 'DejaVu Serif', serif" font-size="9.2" dx="-0.1" class="m">(<tspan font-style="italic">s</tspan>)</tspan></text>
<text transform="translate(369.85 139.70) rotate(-90)" text-anchor="middle" word-spacing="0.5" font-family="'DejaVu Sans', 'Liberation Sans', sans-serif" font-size="9.2" fill="#000">Affiliation degree function</text>
<g class="m" fill="#000" font-size="10">
<text x="527.00" y="8.15" transform="rotate(0.04 527.00 8.15)" font-family="'Liberation Serif', 'DejaVu Serif', serif" font-style="italic">λ</text>
<text x="532.70" y="4.45" transform="rotate(0.04 532.70 4.45)" font-family="'Liberation Serif', 'DejaVu Serif', serif" font-style="italic" font-size="7">U</text>
<text x="531.60" y="10.85" transform="rotate(0.04 531.60 10.85)" font-family="'DejaVu Sans', 'DejaVu Math TeX Gyre', 'Liberation Serif', serif" font-size="6.5" textLength="8.1" lengthAdjust="spacingAndGlyphs" style="stroke-width:0.14px">ℳ</text>
<text x="540.40" y="7.65" transform="rotate(0.04 540.40 7.65)" font-family="'Liberation Serif', 'DejaVu Serif', serif" font-size="9.2">(</text>
<text x="543.80" y="8.15" transform="rotate(0.04 543.80 8.15)" font-family="'Liberation Serif', 'DejaVu Serif', serif" font-style="italic">s</text>
<text x="547.80" y="7.65" transform="rotate(0.04 547.80 7.65)" font-family="'Liberation Serif', 'DejaVu Serif', serif" font-size="9.2">)</text>
</g>
<rect x="625.55" y="22.70" width="55.3" height="67.6" rx="1.7" fill="#fff" stroke="#c6c6c6" stroke-width="0.8"/>
<g font-family="'DejaVu Sans', 'Liberation Sans', sans-serif" font-size="7.5" fill="#000">
<path d="M627.85 28.30h16.6" stroke="#ff0000" stroke-width="1.3"/>
<text x="649.55" y="31.00" transform="rotate(0.04 649.55 31.00)" >σ=0.1</text>
<path d="M627.85 39.34h16.6" stroke="#0000ff" stroke-width="1.3"/>
<text x="649.55" y="42.04" transform="rotate(0.04 649.55 42.04)" >σ=0.15</text>
<path d="M627.85 50.38h16.6" stroke="#008000" stroke-width="1.3"/>
<text x="649.55" y="53.08" transform="rotate(0.04 649.55 53.08)" >σ=0.2</text>
<path d="M627.85 61.42h16.6" stroke="#800080" stroke-width="1.3"/>
<text x="649.55" y="64.12" transform="rotate(0.04 649.55 64.12)" >σ=0.25</text>
<path d="M627.85 72.46h16.6" stroke="#ffa500" stroke-width="1.3"/>
<text x="649.55" y="75.16" transform="rotate(0.04 649.55 75.16)" >σ=0.3</text>
<path d="M627.85 83.50h16.6" stroke="#a52a2a" stroke-width="1.3"/>
<text x="649.55" y="86.20" transform="rotate(0.04 649.55 86.20)" >σ=0.35</text>
</g>
</g>
<g>
<path d="M44.68 332.50V573.80M97.41 332.50V573.80M150.14 332.50V573.80M202.86 332.50V573.80M255.59 332.50V573.80M308.32 332.50V573.80M31.50 531.20H321.50M31.50 484.27H321.50M31.50 437.33H321.50M31.50 390.40H321.50M31.50 343.47H321.50" stroke="#b0b0b0" stroke-width="0.75" fill="none"/>
<polyline points="44.68,343.47 46.33,343.47 47.98,343.47 49.62,343.47 51.27,343.47 52.92,343.47 54.57,343.47 56.22,343.47 57.86,343.48 59.51,343.48 61.16,343.48 62.81,343.49 64.45,343.49 66.10,343.50 67.75,343.51 69.40,343.52 71.05,343.54 72.69,343.56 74.34,343.59 75.99,343.62 77.64,343.66 79.28,343.71 80.93,343.77 82.58,343.85 84.23,343.95 85.88,344.06 87.52,344.20 89.17,344.38 90.82,344.58 92.47,344.83 94.11,345.13 95.76,345.48 97.41,345.90 99.06,346.40 100.70,346.99 102.35,347.67 104.00,348.47 105.65,349.39 107.30,350.46 108.94,351.70 110.59,353.11 112.24,354.71 113.89,356.54 115.53,358.60 117.18,360.92 118.83,363.52 120.48,366.41 122.12,369.62 123.77,373.16 125.42,377.04 127.07,381.29 128.72,385.91 130.36,390.91 132.01,396.29 133.66,402.05 135.31,408.18 136.95,414.68 138.60,421.53 140.25,428.70 141.90,436.17 143.55,443.90 145.19,451.85 146.84,459.97 148.49,468.21 150.14,476.52 151.78,484.82 153.43,493.06 155.08,501.16 156.73,509.05 158.38,516.66 160.02,523.91 161.67,530.73 163.32,537.06 164.97,542.81 166.61,547.94 168.26,552.38 169.91,556.08 171.56,559.01 173.20,561.12 174.85,562.40 176.50,562.83 178.15,562.40 179.80,561.12 181.44,559.01 183.09,556.08 184.74,552.38 186.39,547.94 188.03,542.81 189.68,537.06 191.33,530.73 192.98,523.91 194.62,516.66 196.27,509.05 197.92,501.16 199.57,493.06 201.22,484.82 202.86,476.52 204.51,468.21 206.16,459.97 207.81,451.85 209.45,443.90 211.10,436.17 212.75,428.70 214.40,421.53 216.05,414.68 217.69,408.18 219.34,402.05 220.99,396.29 222.64,390.91 224.28,385.91 225.93,381.29 227.58,377.04 229.23,373.16 230.88,369.62 232.52,366.41 234.17,363.52 235.82,360.92 237.47,358.60 239.11,356.54 240.76,354.71 242.41,353.11 244.06,351.70 245.70,350.46 247.35,349.39 249.00,348.47 250.65,347.67 252.30,346.99 253.94,346.40 255.59,345.90 257.24,345.48 258.89,345.13 260.53,344.83 262.18,344.58 263.83,344.38 265.48,344.20 267.12,344.06 268.77,343.95 270.42,343.85 272.07,343.77 273.72,343.71 275.36,343.66 277.01,343.62 278.66,343.59 280.31,343.56 281.95,343.54 283.60,343.52 285.25,343.51 286.90,343.50 288.55,343.49 290.19,343.49 291.84,343.48 293.49,343.48 295.14,343.48 296.78,343.47 298.43,343.47 300.08,343.47 301.73,343.47 303.37,343.47 305.02,343.47 306.67,343.47 308.32,343.47" stroke="#ff0000" stroke-width="1.4" fill="none" stroke-linejoin="round" stroke-linecap="square"/>
<polyline points="44.68,344.32 46.33,344.44 47.98,344.58 49.62,344.74 51.27,344.93 52.92,345.13 54.57,345.36 56.22,345.62 57.86,345.90 59.51,346.23 61.16,346.59 62.81,346.99 64.45,347.43 66.10,347.92 67.75,348.47 69.40,349.07 71.05,349.73 72.69,350.46 74.34,351.27 75.99,352.14 77.64,353.11 79.28,354.15 80.93,355.30 82.58,356.54 84.23,357.89 85.88,359.34 87.52,360.92 89.17,362.62 90.82,364.45 92.47,366.41 94.11,368.51 95.76,370.76 97.41,373.16 99.06,375.71 100.70,378.42 102.35,381.29 104.00,384.33 105.65,387.53 107.30,390.91 108.94,394.45 110.59,398.17 112.24,402.05 113.89,406.10 115.53,410.31 117.18,414.68 118.83,419.21 120.48,423.89 122.12,428.70 123.77,433.65 125.42,438.72 127.07,443.90 128.72,449.18 130.36,454.54 132.01,459.97 133.66,465.46 135.31,470.98 136.95,476.52 138.60,482.06 140.25,487.58 141.90,493.06 143.55,498.48 145.19,503.82 146.84,509.05 148.49,514.16 150.14,519.12 151.78,523.91 153.43,528.51 155.08,532.90 156.73,537.06 158.38,540.96 160.02,544.59 161.67,547.94 163.32,550.98 164.97,553.70 166.61,556.08 168.26,558.12 169.91,559.81 171.56,561.12 173.20,562.07 174.85,562.64 176.50,562.83 178.15,562.64 179.80,562.07 181.44,561.12 183.09,559.81 184.74,558.12 186.39,556.08 188.03,553.70 189.68,550.98 191.33,547.94 192.98,544.59 194.62,540.96 196.27,537.06 197.92,532.90 199.57,528.51 201.22,523.91 202.86,519.12 204.51,514.16 206.16,509.05 207.81,503.82 209.45,498.48 211.10,493.06 212.75,487.58 214.40,482.06 216.05,476.52 217.69,470.98 219.34,465.46 220.99,459.97 222.64,454.54 224.28,449.18 225.93,443.90 227.58,438.72 229.23,433.65 230.88,428.70 232.52,423.89 234.17,419.21 235.82,414.68 237.47,410.31 239.11,406.10 240.76,402.05 242.41,398.17 244.06,394.45 245.70,390.91 247.35,387.53 249.00,384.33 250.65,381.29 252.30,378.42 253.94,375.71 255.59,373.16 257.24,370.76 258.89,368.51 260.53,366.41 262.18,364.45 263.83,362.62 265.48,360.92 267.12,359.34 268.77,357.89 270.42,356.54 272.07,355.30 273.72,354.15 275.36,353.11 277.01,352.14 278.66,351.27 280.31,350.46 281.95,349.73 283.60,349.07 285.25,348.47 286.90,347.92 288.55,347.43 290.19,346.99 291.84,346.59 293.49,346.23 295.14,345.90 296.78,345.62 298.43,345.36 300.08,345.13 301.73,344.93 303.37,344.74 305.02,344.58 306.67,344.44 308.32,344.32" stroke="#0000ff" stroke-width="1.4" fill="none" stroke-linejoin="round" stroke-linecap="square"/>
<polyline points="44.68,353.11 46.33,353.88 47.98,354.71 49.62,355.60 51.27,356.54 52.92,357.54 54.57,358.60 56.22,359.73 57.86,360.92 59.51,362.18 61.16,363.52 62.81,364.92 64.45,366.41 66.10,367.97 67.75,369.62 69.40,371.34 71.05,373.16 72.69,375.05 74.34,377.04 75.99,379.12 77.64,381.29 79.28,383.55 80.93,385.91 82.58,388.36 84.23,390.91 85.88,393.55 87.52,396.29 89.17,399.12 90.82,402.05 92.47,405.07 94.11,408.18 95.76,411.39 97.41,414.68 99.06,418.07 100.70,421.53 102.35,425.08 104.00,428.70 105.65,432.40 107.30,436.17 108.94,440.01 110.59,443.90 112.24,447.85 113.89,451.85 115.53,455.89 117.18,459.97 118.83,464.08 120.48,468.21 122.12,472.36 123.77,476.52 125.42,480.68 127.07,484.82 128.72,488.95 130.36,493.06 132.01,497.13 133.66,501.16 135.31,505.14 136.95,509.05 138.60,512.90 140.25,516.66 141.90,520.34 143.55,523.91 145.19,527.38 146.84,530.73 148.49,533.96 150.14,537.06 151.78,540.01 153.43,542.81 155.08,545.46 156.73,547.94 158.38,550.25 160.02,552.38 161.67,554.33 163.32,556.08 164.97,557.65 166.61,559.01 168.26,560.17 169.91,561.12 171.56,561.87 173.20,562.40 174.85,562.72 176.50,562.83 178.15,562.72 179.80,562.40 181.44,561.87 183.09,561.12 184.74,560.17 186.39,559.01 188.03,557.65 189.68,556.08 191.33,554.33 192.98,552.38 194.62,550.25 196.27,547.94 197.92,545.46 199.57,542.81 201.22,540.01 202.86,537.06 204.51,533.96 206.16,530.73 207.81,527.38 209.45,523.91 211.10,520.34 212.75,516.66 214.40,512.90 216.05,509.05 217.69,505.14 219.34,501.16 220.99,497.13 222.64,493.06 224.28,488.95 225.93,484.82 227.58,480.68 229.23,476.52 230.88,472.36 232.52,468.21 234.17,464.08 235.82,459.97 237.47,455.89 239.11,451.85 240.76,447.85 242.41,443.90 244.06,440.01 245.70,436.17 247.35,432.40 249.00,428.70 250.65,425.08 252.30,421.53 253.94,418.07 255.59,414.68 257.24,411.39 258.89,408.18 260.53,405.07 262.18,402.05 263.83,399.12 265.48,396.29 267.12,393.55 268.77,390.91 270.42,388.36 272.07,385.91 273.72,383.55 275.36,381.29 277.01,379.12 278.66,377.04 280.31,375.05 281.95,373.16 283.60,371.34 285.25,369.62 286.90,367.97 288.55,366.41 290.19,364.92 291.84,363.52 293.49,362.18 295.14,360.92 296.78,359.73 298.43,358.60 300.08,357.54 301.73,356.54 303.37,355.60 305.02,354.71 306.67,353.88 308.32,353.11" stroke="#008000" stroke-width="1.4" fill="none" stroke-linejoin="round" stroke-linecap="square"/>
<polyline points="44.68,373.16 46.33,374.67 47.98,376.24 49.62,377.86 51.27,379.55 52.92,381.29 54.57,383.09 56.22,384.96 57.86,386.88 59.51,388.86 61.16,390.91 62.81,393.01 64.45,395.18 66.10,397.41 67.75,399.70 69.40,402.05 71.05,404.46 72.69,406.93 74.34,409.46 75.99,412.04 77.64,414.68 79.28,417.38 80.93,420.14 82.58,422.94 84.23,425.80 85.88,428.70 87.52,431.66 89.17,434.66 90.82,437.70 92.47,440.78 94.11,443.90 95.76,447.06 97.41,450.24 99.06,453.46 100.70,456.70 102.35,459.97 104.00,463.26 105.65,466.56 107.30,469.87 108.94,473.19 110.59,476.52 112.24,479.84 113.89,483.17 115.53,486.48 117.18,489.78 118.83,493.06 120.48,496.32 122.12,499.56 123.77,502.76 125.42,505.93 127.07,509.05 128.72,512.13 130.36,515.16 132.01,518.14 133.66,521.06 135.31,523.91 136.95,526.70 138.60,529.41 140.25,532.04 141.90,534.59 143.55,537.06 145.19,539.43 146.84,541.71 148.49,543.89 150.14,545.97 151.78,547.94 153.43,549.80 155.08,551.55 156.73,553.18 158.38,554.69 160.02,556.08 161.67,557.35 163.32,558.49 164.97,559.50 166.61,560.38 168.26,561.12 169.91,561.74 171.56,562.22 173.20,562.56 174.85,562.76 176.50,562.83 178.15,562.76 179.80,562.56 181.44,562.22 183.09,561.74 184.74,561.12 186.39,560.38 188.03,559.50 189.68,558.49 191.33,557.35 192.98,556.08 194.62,554.69 196.27,553.18 197.92,551.55 199.57,549.80 201.22,547.94 202.86,545.97 204.51,543.89 206.16,541.71 207.81,539.43 209.45,537.06 211.10,534.59 212.75,532.04 214.40,529.41 216.05,526.70 217.69,523.91 219.34,521.06 220.99,518.14 222.64,515.16 224.28,512.13 225.93,509.05 227.58,505.93 229.23,502.76 230.88,499.56 232.52,496.32 234.17,493.06 235.82,489.78 237.47,486.48 239.11,483.17 240.76,479.84 242.41,476.52 244.06,473.19 245.70,469.87 247.35,466.56 249.00,463.26 250.65,459.97 252.30,456.70 253.94,453.46 255.59,450.24 257.24,447.06 258.89,443.90 260.53,440.78 262.18,437.70 263.83,434.66 265.48,431.66 267.12,428.70 268.77,425.80 270.42,422.94 272.07,420.14 273.72,417.38 275.36,414.68 277.01,412.04 278.66,409.46 280.31,406.93 281.95,404.46 283.60,402.05 285.25,399.70 286.90,397.41 288.55,395.18 290.19,393.01 291.84,390.91 293.49,388.86 295.14,386.88 296.78,384.96 298.43,383.09 300.08,381.29 301.73,379.55 303.37,377.86 305.02,376.24 306.67,374.67 308.32,373.16" stroke="#800080" stroke-width="1.4" fill="none" stroke-linejoin="round" stroke-linecap="square"/>
<polyline points="44.68,398.17 46.33,400.09 47.98,402.05 49.62,404.05 51.27,406.10 52.92,408.18 54.57,410.31 56.22,412.48 57.86,414.68 59.51,416.93 61.16,419.21 62.81,421.53 64.45,423.89 66.10,426.28 67.75,428.70 69.40,431.16 71.05,433.65 72.69,436.17 74.34,438.72 75.99,441.30 77.64,443.90 79.28,446.53 80.93,449.18 82.58,451.85 84.23,454.54 85.88,457.25 87.52,459.97 89.17,462.71 90.82,465.46 92.47,468.21 94.11,470.98 95.76,473.75 97.41,476.52 99.06,479.29 100.70,482.06 102.35,484.82 104.00,487.58 105.65,490.33 107.30,493.06 108.94,495.78 110.59,498.48 112.24,501.16 113.89,503.82 115.53,506.45 117.18,509.05 118.83,511.62 120.48,514.16 122.12,516.66 123.77,519.12 125.42,521.54 127.07,523.91 128.72,526.24 130.36,528.51 132.01,530.73 133.66,532.90 135.31,535.01 136.95,537.06 138.60,539.04 140.25,540.96 141.90,542.81 143.55,544.59 145.19,546.30 146.84,547.94 148.49,549.50 150.14,550.98 151.78,552.38 153.43,553.70 155.08,554.93 156.73,556.08 158.38,557.15 160.02,558.12 161.67,559.01 163.32,559.81 164.97,560.51 166.61,561.12 168.26,561.64 169.91,562.07 171.56,562.40 173.20,562.64 174.85,562.78 176.50,562.83 178.15,562.78 179.80,562.64 181.44,562.40 183.09,562.07 184.74,561.64 186.39,561.12 188.03,560.51 189.68,559.81 191.33,559.01 192.98,558.12 194.62,557.15 196.27,556.08 197.92,554.93 199.57,553.70 201.22,552.38 202.86,550.98 204.51,549.50 206.16,547.94 207.81,546.30 209.45,544.59 211.10,542.81 212.75,540.96 214.40,539.04 216.05,537.06 217.69,535.01 219.34,532.90 220.99,530.73 222.64,528.51 224.28,526.24 225.93,523.91 227.58,521.54 229.23,519.12 230.88,516.66 232.52,514.16 234.17,511.62 235.82,509.05 237.47,506.45 239.11,503.82 240.76,501.16 242.41,498.48 244.06,495.78 245.70,493.06 247.35,490.33 249.00,487.58 250.65,484.82 252.30,482.06 253.94,479.29 255.59,476.52 257.24,473.75 258.89,470.98 260.53,468.21 262.18,465.46 263.83,462.71 265.48,459.97 267.12,457.25 268.77,454.54 270.42,451.85 272.07,449.18 273.72,446.53 275.36,443.90 277.01,441.30 278.66,438.72 280.31,436.17 281.95,433.65 283.60,431.16 285.25,428.70 286.90,426.28 288.55,423.89 290.19,421.53 291.84,419.21 293.49,416.93 295.14,414.68 296.78,412.48 298.43,410.31 300.08,408.18 301.73,406.10 303.37,404.05 305.02,402.05 306.67,400.09 308.32,398.17" stroke="#ffa500" stroke-width="1.4" fill="none" stroke-linejoin="round" stroke-linecap="square"/>
<polyline points="44.68,422.54 46.33,424.57 47.98,426.62 49.62,428.70 51.27,430.81 52.92,432.94 54.57,435.09 56.22,437.26 57.86,439.45 59.51,441.67 61.16,443.90 62.81,446.15 64.45,448.42 66.10,450.70 67.75,453.00 69.40,455.31 71.05,457.64 72.69,459.97 74.34,462.32 75.99,464.67 77.64,467.03 79.28,469.40 80.93,471.77 82.58,474.14 84.23,476.52 85.88,478.89 87.52,481.27 89.17,483.64 90.82,486.01 92.47,488.37 94.11,490.72 95.76,493.06 97.41,495.39 99.06,497.71 100.70,500.02 102.35,502.30 104.00,504.57 105.65,506.82 107.30,509.05 108.94,511.26 110.59,513.44 112.24,515.59 113.89,517.72 115.53,519.82 117.18,521.88 118.83,523.91 120.48,525.91 122.12,527.87 123.77,529.79 125.42,531.67 127.07,533.51 128.72,535.30 130.36,537.06 132.01,538.76 133.66,540.42 135.31,542.03 136.95,543.58 138.60,545.09 140.25,546.54 141.90,547.94 143.55,549.28 145.19,550.56 146.84,551.79 148.49,552.95 150.14,554.06 151.78,555.10 153.43,556.08 155.08,557.00 156.73,557.85 158.38,558.64 160.02,559.36 161.67,560.02 163.32,560.60 164.97,561.12 166.61,561.58 168.26,561.96 169.91,562.27 171.56,562.52 173.20,562.69 174.85,562.80 176.50,562.83 178.15,562.80 179.80,562.69 181.44,562.52 183.09,562.27 184.74,561.96 186.39,561.58 188.03,561.12 189.68,560.60 191.33,560.02 192.98,559.36 194.62,558.64 196.27,557.85 197.92,557.00 199.57,556.08 201.22,555.10 202.86,554.06 204.51,552.95 206.16,551.79 207.81,550.56 209.45,549.28 211.10,547.94 212.75,546.54 214.40,545.09 216.05,543.58 217.69,542.03 219.34,540.42 220.99,538.76 222.64,537.06 224.28,535.30 225.93,533.51 227.58,531.67 229.23,529.79 230.88,527.87 232.52,525.91 234.17,523.91 235.82,521.88 237.47,519.82 239.11,517.72 240.76,515.59 242.41,513.44 244.06,511.26 245.70,509.05 247.35,506.82 249.00,504.57 250.65,502.30 252.30,500.02 253.94,497.71 255.59,495.39 257.24,493.06 258.89,490.72 260.53,488.37 262.18,486.01 263.83,483.64 265.48,481.27 267.12,478.89 268.77,476.52 270.42,474.14 272.07,471.77 273.72,469.40 275.36,467.03 277.01,464.67 278.66,462.32 280.31,459.97 281.95,457.64 283.60,455.31 285.25,453.00 286.90,450.70 288.55,448.42 290.19,446.15 291.84,443.90 293.49,441.67 295.14,439.45 296.78,437.26 298.43,435.09 300.08,432.94 301.73,430.81 303.37,428.70 305.02,426.62 306.67,424.57 308.32,422.54" stroke="#a52a2a" stroke-width="1.4" fill="none" stroke-linejoin="round" stroke-linecap="square"/>
<path d="M44.68 373.16H123.77" stroke="#ff0000" stroke-width="0.85" stroke-dasharray="0.95 1.25" fill="none"/>
<path d="M44.68 433.65H123.77" stroke="#0000ff" stroke-width="0.85" stroke-dasharray="0.95 1.25" fill="none"/>
<path d="M44.68 476.52H123.77" stroke="#008000" stroke-width="0.85" stroke-dasharray="0.95 1.25" fill="none"/>
<path d="M44.68 502.76H123.77" stroke="#800080" stroke-width="0.85" stroke-dasharray="0.95 1.25" fill="none"/>
<path d="M44.68 519.12H123.77" stroke="#ffa500" stroke-width="0.85" stroke-dasharray="0.95 1.25" fill="none"/>
<path d="M44.68 529.79H123.77" stroke="#a52a2a" stroke-width="0.85" stroke-dasharray="0.95 1.25" fill="none"/>
<path d="M123.77 573.80V332.50" stroke="#000" stroke-opacity="0.7" stroke-width="0.6" stroke-dasharray="2.47 1.07" fill="none"/>
<path d="M44.68 573.80v3.2M97.41 573.80v3.2M150.14 573.80v3.2M202.86 573.80v3.2M255.59 573.80v3.2M308.32 573.80v3.2M31.50 531.20h-3.2M31.50 484.27h-3.2M31.50 437.33h-3.2M31.50 390.40h-3.2M31.50 343.47h-3.2" stroke="#000" stroke-width="1" fill="none"/>
<rect x="31.50" y="332.50" width="290.00" height="241.30" fill="none" stroke="#000" stroke-width="0.85"/>
<g font-family="'DejaVu Sans', 'Liberation Sans', sans-serif" font-size="7.8" fill="#000">
<text x="44.68" y="586.20" transform="rotate(0.04 44.68 586.20)" text-anchor="middle" textLength="13.4" lengthAdjust="spacingAndGlyphs">0.0</text>
<text x="97.41" y="586.20" transform="rotate(0.04 97.41 586.20)" text-anchor="middle" textLength="13.4" lengthAdjust="spacingAndGlyphs">0.2</text>
<text x="150.14" y="586.20" transform="rotate(0.04 150.14 586.20)" text-anchor="middle" textLength="13.4" lengthAdjust="spacingAndGlyphs">0.4</text>
<text x="202.86" y="586.20" transform="rotate(0.04 202.86 586.20)" text-anchor="middle" textLength="13.4" lengthAdjust="spacingAndGlyphs">0.6</text>
<text x="255.59" y="586.20" transform="rotate(0.04 255.59 586.20)" text-anchor="middle" textLength="13.4" lengthAdjust="spacingAndGlyphs">0.8</text>
<text x="308.32" y="586.20" transform="rotate(0.04 308.32 586.20)" text-anchor="middle" textLength="13.4" lengthAdjust="spacingAndGlyphs">1.0</text>
<text x="25.70" y="534.25" transform="rotate(0.04 25.70 534.25)" text-anchor="end" textLength="13.4" lengthAdjust="spacingAndGlyphs">0.2</text>
<text x="25.70" y="487.32" transform="rotate(0.04 25.70 487.32)" text-anchor="end" textLength="13.4" lengthAdjust="spacingAndGlyphs">0.4</text>
<text x="25.70" y="440.38" transform="rotate(0.04 25.70 440.38)" text-anchor="end" textLength="13.4" lengthAdjust="spacingAndGlyphs">0.6</text>
<text x="25.70" y="393.45" transform="rotate(0.04 25.70 393.45)" text-anchor="end" textLength="13.4" lengthAdjust="spacingAndGlyphs">0.8</text>
<text x="25.70" y="346.52" transform="rotate(0.04 25.70 346.52)" text-anchor="end" textLength="13.4" lengthAdjust="spacingAndGlyphs">1.0</text>
</g>
<text x="176.00" y="597.95" transform="rotate(0.04 176.00 597.95)" text-anchor="middle" word-spacing="0.5" font-family="'DejaVu Sans', 'Liberation Sans', sans-serif" font-size="9.2" fill="#000">Normalized Gray Value <tspan font-family="'Liberation Serif', 'DejaVu Serif', serif" font-size="9.2" dx="-0.1" class="m">(<tspan font-style="italic">s</tspan>)</tspan></text>
<text transform="translate(7.30 453.15) rotate(-90)" text-anchor="middle" word-spacing="0.5" font-family="'DejaVu Sans', 'Liberation Sans', sans-serif" font-size="9.2" fill="#000">Non-affiliation degree function</text>
<g class="m" fill="#000" font-size="10">
<text x="164.30" y="322.20" transform="rotate(0.04 164.30 322.20)" font-family="'Liberation Serif', 'DejaVu Serif', serif" font-style="italic">κ</text>
<text x="170.00" y="318.50" transform="rotate(0.04 170.00 318.50)" font-family="'Liberation Serif', 'DejaVu Serif', serif" font-style="italic" font-size="7">L</text>
<text x="168.90" y="324.90" transform="rotate(0.04 168.90 324.90)" font-family="'DejaVu Sans', 'DejaVu Math TeX Gyre', 'Liberation Serif', serif" font-size="6.5" textLength="8.1" lengthAdjust="spacingAndGlyphs" style="stroke-width:0.14px">ℳ</text>
<text x="177.70" y="321.70" transform="rotate(0.04 177.70 321.70)" font-family="'Liberation Serif', 'DejaVu Serif', serif" font-size="9.2">(</text>
<text x="181.10" y="322.20" transform="rotate(0.04 181.10 322.20)" font-family="'Liberation Serif', 'DejaVu Serif', serif" font-style="italic">s</text>
<text x="185.10" y="321.70" transform="rotate(0.04 185.10 321.70)" font-family="'Liberation Serif', 'DejaVu Serif', serif" font-size="9.2">)</text>
</g>
<rect x="262.70" y="336.45" width="55.3" height="67.6" rx="1.7" fill="#fff" stroke="#c6c6c6" stroke-width="0.8"/>
<g font-family="'DejaVu Sans', 'Liberation Sans', sans-serif" font-size="7.5" fill="#000">
<path d="M265.00 342.05h16.6" stroke="#ff0000" stroke-width="1.3"/>
<text x="286.70" y="344.75" transform="rotate(0.04 286.70 344.75)" >σ=0.1</text>
<path d="M265.00 353.09h16.6" stroke="#0000ff" stroke-width="1.3"/>
<text x="286.70" y="355.79" transform="rotate(0.04 286.70 355.79)" >σ=0.15</text>
<path d="M265.00 364.13h16.6" stroke="#008000" stroke-width="1.3"/>
<text x="286.70" y="366.83" transform="rotate(0.04 286.70 366.83)" >σ=0.2</text>
<path d="M265.00 375.17h16.6" stroke="#800080" stroke-width="1.3"/>
<text x="286.70" y="377.87" transform="rotate(0.04 286.70 377.87)" >σ=0.25</text>
<path d="M265.00 386.21h16.6" stroke="#ffa500" stroke-width="1.3"/>
<text x="286.70" y="388.91" transform="rotate(0.04 286.70 388.91)" >σ=0.3</text>
<path d="M265.00 397.25h16.6" stroke="#a52a2a" stroke-width="1.3"/>
<text x="286.70" y="399.95" transform="rotate(0.04 286.70 399.95)" >σ=0.35</text>
</g>
</g>
<g>
<path d="M407.25 332.50V573.80M460.03 332.50V573.80M512.81 332.50V573.80M565.59 332.50V573.80M618.37 332.50V573.80M671.15 332.50V573.80M394.05 557.48H684.35M394.05 503.98H684.35M394.05 450.47H684.35M394.05 396.97H684.35M394.05 343.47H684.35" stroke="#b0b0b0" stroke-width="0.75" fill="none"/>
<polyline points="407.25,343.47 408.89,343.47 410.54,343.47 412.19,343.47 413.84,343.47 415.49,343.47 417.14,343.47 418.79,343.47 420.44,343.48 422.09,343.48 423.74,343.48 425.39,343.49 427.04,343.49 428.69,343.50 430.34,343.51 431.99,343.52 433.64,343.54 435.29,343.56 436.94,343.59 438.58,343.62 440.23,343.66 441.88,343.71 443.53,343.77 445.18,343.85 446.83,343.95 448.48,344.06 450.13,344.20 451.78,344.38 453.43,344.58 455.08,344.83 456.73,345.13 458.38,345.48 460.03,345.90 461.68,346.40 463.33,346.99 464.98,347.67 466.62,348.47 468.27,349.39 469.92,350.46 471.57,351.70 473.22,353.11 474.87,354.71 476.52,356.54 478.17,358.60 479.82,360.92 481.47,363.52 483.12,366.41 484.77,369.62 486.42,373.16 488.07,377.04 489.72,381.29 491.37,385.91 493.02,390.91 494.67,396.29 496.31,402.05 497.96,408.18 499.61,414.68 501.26,421.53 502.91,428.70 504.56,436.17 506.21,443.90 507.86,451.85 509.51,459.97 511.16,468.21 512.81,476.52 514.46,484.82 516.11,493.06 517.76,501.16 519.41,509.05 521.06,516.66 522.71,523.91 524.36,530.73 526.00,537.06 527.65,542.81 529.30,547.94 530.95,552.38 532.60,556.08 534.25,559.01 535.90,561.12 537.55,562.40 539.20,562.83 540.85,562.40 542.50,561.12 544.15,559.01 545.80,556.08 547.45,552.38 549.10,547.94 550.75,542.81 552.40,537.06 554.04,530.73 555.69,523.91 557.34,516.66 558.99,509.05 560.64,501.16 562.29,493.06 563.94,484.82 565.59,476.52 567.24,468.21 568.89,459.97 570.54,451.85 572.19,443.90 573.84,436.17 575.49,428.70 577.14,421.53 578.79,414.68 580.44,408.18 582.09,402.05 583.73,396.29 585.38,390.91 587.03,385.91 588.68,381.29 590.33,377.04 591.98,373.16 593.63,369.62 595.28,366.41 596.93,363.52 598.58,360.92 600.23,358.60 601.88,356.54 603.53,354.71 605.18,353.11 606.83,351.70 608.48,350.46 610.13,349.39 611.78,348.47 613.42,347.67 615.07,346.99 616.72,346.40 618.37,345.90 620.02,345.48 621.67,345.13 623.32,344.83 624.97,344.58 626.62,344.38 628.27,344.20 629.92,344.06 631.57,343.95 633.22,343.85 634.87,343.77 636.52,343.71 638.17,343.66 639.82,343.62 641.46,343.59 643.11,343.56 644.76,343.54 646.41,343.52 648.06,343.51 649.71,343.50 651.36,343.49 653.01,343.49 654.66,343.48 656.31,343.48 657.96,343.48 659.61,343.47 661.26,343.47 662.91,343.47 664.56,343.47 666.21,343.47 667.86,343.47 669.51,343.47 671.15,343.47" stroke="#ff0000" stroke-width="1.4" fill="none" stroke-linejoin="round" stroke-linecap="square"/>
<polyline points="407.25,344.32 408.89,344.44 410.54,344.58 412.19,344.74 413.84,344.93 415.49,345.13 417.14,345.36 418.79,345.62 420.44,345.90 422.09,346.23 423.74,346.59 425.39,346.99 427.04,347.43 428.69,347.92 430.34,348.47 431.99,349.07 433.64,349.73 435.29,350.46 436.94,351.27 438.58,352.14 440.23,353.11 441.88,354.15 443.53,355.30 445.18,356.54 446.83,357.89 448.48,359.34 450.13,360.92 451.78,362.62 453.43,364.45 455.08,366.41 456.73,368.51 458.38,370.76 460.03,373.16 461.68,375.71 463.33,378.42 464.98,381.29 466.62,384.33 468.27,387.53 469.92,390.91 471.57,394.45 473.22,398.17 474.87,402.05 476.52,406.10 478.17,410.31 479.82,414.68 481.47,419.21 483.12,423.89 484.77,428.70 486.42,433.65 488.07,438.72 489.72,443.90 491.37,449.18 493.02,454.54 494.67,459.97 496.31,465.46 497.96,470.98 499.61,476.52 501.26,482.06 502.91,487.58 504.56,493.06 506.21,498.48 507.86,503.82 509.51,509.05 511.16,514.16 512.81,519.12 514.46,523.91 516.11,528.51 517.76,532.90 519.41,537.06 521.06,540.96 522.71,544.59 524.36,547.94 526.00,550.98 527.65,553.70 529.30,556.08 530.95,558.12 532.60,559.81 534.25,561.12 535.90,562.07 537.55,562.64 539.20,562.83 540.85,562.64 542.50,562.07 544.15,561.12 545.80,559.81 547.45,558.12 549.10,556.08 550.75,553.70 552.40,550.98 554.04,547.94 555.69,544.59 557.34,540.96 558.99,537.06 560.64,532.90 562.29,528.51 563.94,523.91 565.59,519.12 567.24,514.16 568.89,509.05 570.54,503.82 572.19,498.48 573.84,493.06 575.49,487.58 577.14,482.06 578.79,476.52 580.44,470.98 582.09,465.46 583.73,459.97 585.38,454.54 587.03,449.18 588.68,443.90 590.33,438.72 591.98,433.65 593.63,428.70 595.28,423.89 596.93,419.21 598.58,414.68 600.23,410.31 601.88,406.10 603.53,402.05 605.18,398.17 606.83,394.45 608.48,390.91 610.13,387.53 611.78,384.33 613.42,381.29 615.07,378.42 616.72,375.71 618.37,373.16 620.02,370.76 621.67,368.51 623.32,366.41 624.97,364.45 626.62,362.62 628.27,360.92 629.92,359.34 631.57,357.89 633.22,356.54 634.87,355.30 636.52,354.15 638.17,353.11 639.82,352.14 641.46,351.27 643.11,350.46 644.76,349.73 646.41,349.07 648.06,348.47 649.71,347.92 651.36,347.43 653.01,346.99 654.66,346.59 656.31,346.23 657.96,345.90 659.61,345.62 661.26,345.36 662.91,345.13 664.56,344.93 666.21,344.74 667.86,344.58 669.51,344.44 671.15,344.32" stroke="#0000ff" stroke-width="1.4" fill="none" stroke-linejoin="round" stroke-linecap="square"/>
<polyline points="407.25,353.11 408.89,353.88 410.54,354.71 412.19,355.60 413.84,356.54 415.49,357.54 417.14,358.60 418.79,359.73 420.44,360.92 422.09,362.18 423.74,363.52 425.39,364.92 427.04,366.41 428.69,367.97 430.34,369.62 431.99,371.34 433.64,373.16 435.29,375.05 436.94,377.04 438.58,379.12 440.23,381.29 441.88,383.55 443.53,385.91 445.18,388.36 446.83,390.91 448.48,393.55 450.13,396.29 451.78,399.12 453.43,402.05 455.08,405.07 456.73,408.18 458.38,411.39 460.03,414.68 461.68,418.07 463.33,421.53 464.98,425.08 466.62,428.70 468.27,432.40 469.92,436.17 471.57,440.01 473.22,443.90 474.87,447.85 476.52,451.85 478.17,455.89 479.82,459.97 481.47,464.08 483.12,468.21 484.77,472.36 486.42,476.52 488.07,480.68 489.72,484.82 491.37,488.95 493.02,493.06 494.67,497.13 496.31,501.16 497.96,505.14 499.61,509.05 501.26,512.90 502.91,516.66 504.56,520.34 506.21,523.91 507.86,527.38 509.51,530.73 511.16,533.96 512.81,537.06 514.46,540.01 516.11,542.81 517.76,545.46 519.41,547.94 521.06,550.25 522.71,552.38 524.36,554.33 526.00,556.08 527.65,557.65 529.30,559.01 530.95,560.17 532.60,561.12 534.25,561.87 535.90,562.40 537.55,562.72 539.20,562.83 540.85,562.72 542.50,562.40 544.15,561.87 545.80,561.12 547.45,560.17 549.10,559.01 550.75,557.65 552.40,556.08 554.04,554.33 555.69,552.38 557.34,550.25 558.99,547.94 560.64,545.46 562.29,542.81 563.94,540.01 565.59,537.06 567.24,533.96 568.89,530.73 570.54,527.38 572.19,523.91 573.84,520.34 575.49,516.66 577.14,512.90 578.79,509.05 580.44,505.14 582.09,501.16 583.73,497.13 585.38,493.06 587.03,488.95 588.68,484.82 590.33,480.68 591.98,476.52 593.63,472.36 595.28,468.21 596.93,464.08 598.58,459.97 600.23,455.89 601.88,451.85 603.53,447.85 605.18,443.90 606.83,440.01 608.48,436.17 610.13,432.40 611.78,428.70 613.42,425.08 615.07,421.53 616.72,418.07 618.37,414.68 620.02,411.39 621.67,408.18 623.32,405.07 624.97,402.05 626.62,399.12 628.27,396.29 629.92,393.55 631.57,390.91 633.22,388.36 634.87,385.91 636.52,383.55 638.17,381.29 639.82,379.12 641.46,377.04 643.11,375.05 644.76,373.16 646.41,371.34 648.06,369.62 649.71,367.97 651.36,366.41 653.01,364.92 654.66,363.52 656.31,362.18 657.96,360.92 659.61,359.73 661.26,358.60 662.91,357.54 664.56,356.54 666.21,355.60 667.86,354.71 669.51,353.88 671.15,353.11" stroke="#008000" stroke-width="1.4" fill="none" stroke-linejoin="round" stroke-linecap="square"/>
<polyline points="407.25,373.16 408.89,374.67 410.54,376.24 412.19,377.86 413.84,379.55 415.49,381.29 417.14,383.09 418.79,384.96 420.44,386.88 422.09,388.86 423.74,390.91 425.39,393.01 427.04,395.18 428.69,397.41 430.34,399.70 431.99,402.05 433.64,404.46 435.29,406.93 436.94,409.46 438.58,412.04 440.23,414.68 441.88,417.38 443.53,420.14 445.18,422.94 446.83,425.80 448.48,428.70 450.13,431.66 451.78,434.66 453.43,437.70 455.08,440.78 456.73,443.90 458.38,447.06 460.03,450.24 461.68,453.46 463.33,456.70 464.98,459.97 466.62,463.26 468.27,466.56 469.92,469.87 471.57,473.19 473.22,476.52 474.87,479.84 476.52,483.17 478.17,486.48 479.82,489.78 481.47,493.06 483.12,496.32 484.77,499.56 486.42,502.76 488.07,505.93 489.72,509.05 491.37,512.13 493.02,515.16 494.67,518.14 496.31,521.06 497.96,523.91 499.61,526.70 501.26,529.41 502.91,532.04 504.56,534.59 506.21,537.06 507.86,539.43 509.51,541.71 511.16,543.89 512.81,545.97 514.46,547.94 516.11,549.80 517.76,551.55 519.41,553.18 521.06,554.69 522.71,556.08 524.36,557.35 526.00,558.49 527.65,559.50 529.30,560.38 530.95,561.12 532.60,561.74 534.25,562.22 535.90,562.56 537.55,562.76 539.20,562.83 540.85,562.76 542.50,562.56 544.15,562.22 545.80,561.74 547.45,561.12 549.10,560.38 550.75,559.50 552.40,558.49 554.04,557.35 555.69,556.08 557.34,554.69 558.99,553.18 560.64,551.55 562.29,549.80 563.94,547.94 565.59,545.97 567.24,543.89 568.89,541.71 570.54,539.43 572.19,537.06 573.84,534.59 575.49,532.04 577.14,529.41 578.79,526.70 580.44,523.91 582.09,521.06 583.73,518.14 585.38,515.16 587.03,512.13 588.68,509.05 590.33,505.93 591.98,502.76 593.63,499.56 595.28,496.32 596.93,493.06 598.58,489.78 600.23,486.48 601.88,483.17 603.53,479.84 605.18,476.52 606.83,473.19 608.48,469.87 610.13,466.56 611.78,463.26 613.42,459.97 615.07,456.70 616.72,453.46 618.37,450.24 620.02,447.06 621.67,443.90 623.32,440.78 624.97,437.70 626.62,434.66 628.27,431.66 629.92,428.70 631.57,425.80 633.22,422.94 634.87,420.14 636.52,417.38 638.17,414.68 639.82,412.04 641.46,409.46 643.11,406.93 644.76,404.46 646.41,402.05 648.06,399.70 649.71,397.41 651.36,395.18 653.01,393.01 654.66,390.91 656.31,388.86 657.96,386.88 659.61,384.96 661.26,383.09 662.91,381.29 664.56,379.55 666.21,377.86 667.86,376.24 669.51,374.67 671.15,373.16" stroke="#800080" stroke-width="1.4" fill="none" stroke-linejoin="round" stroke-linecap="square"/>
<polyline points="407.25,398.17 408.89,400.09 410.54,402.05 412.19,404.05 413.84,406.10 415.49,408.18 417.14,410.31 418.79,412.48 420.44,414.68 422.09,416.93 423.74,419.21 425.39,421.53 427.04,423.89 428.69,426.28 430.34,428.70 431.99,431.16 433.64,433.65 435.29,436.17 436.94,438.72 438.58,441.30 440.23,443.90 441.88,446.53 443.53,449.18 445.18,451.85 446.83,454.54 448.48,457.25 450.13,459.97 451.78,462.71 453.43,465.46 455.08,468.21 456.73,470.98 458.38,473.75 460.03,476.52 461.68,479.29 463.33,482.06 464.98,484.82 466.62,487.58 468.27,490.33 469.92,493.06 471.57,495.78 473.22,498.48 474.87,501.16 476.52,503.82 478.17,506.45 479.82,509.05 481.47,511.62 483.12,514.16 484.77,516.66 486.42,519.12 488.07,521.54 489.72,523.91 491.37,526.24 493.02,528.51 494.67,530.73 496.31,532.90 497.96,535.01 499.61,537.06 501.26,539.04 502.91,540.96 504.56,542.81 506.21,544.59 507.86,546.30 509.51,547.94 511.16,549.50 512.81,550.98 514.46,552.38 516.11,553.70 517.76,554.93 519.41,556.08 521.06,557.15 522.71,558.12 524.36,559.01 526.00,559.81 527.65,560.51 529.30,561.12 530.95,561.64 532.60,562.07 534.25,562.40 535.90,562.64 537.55,562.78 539.20,562.83 540.85,562.78 542.50,562.64 544.15,562.40 545.80,562.07 547.45,561.64 549.10,561.12 550.75,560.51 552.40,559.81 554.04,559.01 555.69,558.12 557.34,557.15 558.99,556.08 560.64,554.93 562.29,553.70 563.94,552.38 565.59,550.98 567.24,549.50 568.89,547.94 570.54,546.30 572.19,544.59 573.84,542.81 575.49,540.96 577.14,539.04 578.79,537.06 580.44,535.01 582.09,532.90 583.73,530.73 585.38,528.51 587.03,526.24 588.68,523.91 590.33,521.54 591.98,519.12 593.63,516.66 595.28,514.16 596.93,511.62 598.58,509.05 600.23,506.45 601.88,503.82 603.53,501.16 605.18,498.48 606.83,495.78 608.48,493.06 610.13,490.33 611.78,487.58 613.42,484.82 615.07,482.06 616.72,479.29 618.37,476.52 620.02,473.75 621.67,470.98 623.32,468.21 624.97,465.46 626.62,462.71 628.27,459.97 629.92,457.25 631.57,454.54 633.22,451.85 634.87,449.18 636.52,446.53 638.17,443.90 639.82,441.30 641.46,438.72 643.11,436.17 644.76,433.65 646.41,431.16 648.06,428.70 649.71,426.28 651.36,423.89 653.01,421.53 654.66,419.21 656.31,416.93 657.96,414.68 659.61,412.48 661.26,410.31 662.91,408.18 664.56,406.10 666.21,404.05 667.86,402.05 669.51,400.09 671.15,398.17" stroke="#ffa500" stroke-width="1.4" fill="none" stroke-linejoin="round" stroke-linecap="square"/>
<polyline points="407.25,422.54 408.89,424.57 410.54,426.62 412.19,428.70 413.84,430.81 415.49,432.94 417.14,435.09 418.79,437.26 420.44,439.45 422.09,441.67 423.74,443.90 425.39,446.15 427.04,448.42 428.69,450.70 430.34,453.00 431.99,455.31 433.64,457.64 435.29,459.97 436.94,462.32 438.58,464.67 440.23,467.03 441.88,469.40 443.53,471.77 445.18,474.14 446.83,476.52 448.48,478.89 450.13,481.27 451.78,483.64 453.43,486.01 455.08,488.37 456.73,490.72 458.38,493.06 460.03,495.39 461.68,497.71 463.33,500.02 464.98,502.30 466.62,504.57 468.27,506.82 469.92,509.05 471.57,511.26 473.22,513.44 474.87,515.59 476.52,517.72 478.17,519.82 479.82,521.88 481.47,523.91 483.12,525.91 484.77,527.87 486.42,529.79 488.07,531.67 489.72,533.51 491.37,535.30 493.02,537.06 494.67,538.76 496.31,540.42 497.96,542.03 499.61,543.58 501.26,545.09 502.91,546.54 504.56,547.94 506.21,549.28 507.86,550.56 509.51,551.79 511.16,552.95 512.81,554.06 514.46,555.10 516.11,556.08 517.76,557.00 519.41,557.85 521.06,558.64 522.71,559.36 524.36,560.02 526.00,560.60 527.65,561.12 529.30,561.58 530.95,561.96 532.60,562.27 534.25,562.52 535.90,562.69 537.55,562.80 539.20,562.83 540.85,562.80 542.50,562.69 544.15,562.52 545.80,562.27 547.45,561.96 549.10,561.58 550.75,561.12 552.40,560.60 554.04,560.02 555.69,559.36 557.34,558.64 558.99,557.85 560.64,557.00 562.29,556.08 563.94,555.10 565.59,554.06 567.24,552.95 568.89,551.79 570.54,550.56 572.19,549.28 573.84,547.94 575.49,546.54 577.14,545.09 578.79,543.58 580.44,542.03 582.09,540.42 583.73,538.76 585.38,537.06 587.03,535.30 588.68,533.51 590.33,531.67 591.98,529.79 593.63,527.87 595.28,525.91 596.93,523.91 598.58,521.88 600.23,519.82 601.88,517.72 603.53,515.59 605.18,513.44 606.83,511.26 608.48,509.05 610.13,506.82 611.78,504.57 613.42,502.30 615.07,500.02 616.72,497.71 618.37,495.39 620.02,493.06 621.67,490.72 623.32,488.37 624.97,486.01 626.62,483.64 628.27,481.27 629.92,478.89 631.57,476.52 633.22,474.14 634.87,471.77 636.52,469.40 638.17,467.03 639.82,464.67 641.46,462.32 643.11,459.97 644.76,457.64 646.41,455.31 648.06,453.00 649.71,450.70 651.36,448.42 653.01,446.15 654.66,443.90 656.31,441.67 657.96,439.45 659.61,437.26 661.26,435.09 662.91,432.94 664.56,430.81 666.21,428.70 667.86,426.62 669.51,424.57 671.15,422.54" stroke="#a52a2a" stroke-width="1.4" fill="none" stroke-linejoin="round" stroke-linecap="square"/>
<path d="M407.25 373.16H486.42" stroke="#ff0000" stroke-width="0.85" stroke-dasharray="0.95 1.25" fill="none"/>
<path d="M407.25 433.65H486.42" stroke="#0000ff" stroke-width="0.85" stroke-dasharray="0.95 1.25" fill="none"/>
<path d="M407.25 476.52H486.42" stroke="#008000" stroke-width="0.85" stroke-dasharray="0.95 1.25" fill="none"/>
<path d="M407.25 502.76H486.42" stroke="#800080" stroke-width="0.85" stroke-dasharray="0.95 1.25" fill="none"/>
<path d="M407.25 519.12H486.42" stroke="#ffa500" stroke-width="0.85" stroke-dasharray="0.95 1.25" fill="none"/>
<path d="M407.25 529.79H486.42" stroke="#a52a2a" stroke-width="0.85" stroke-dasharray="0.95 1.25" fill="none"/>
<path d="M486.42 573.80V332.50" stroke="#000" stroke-opacity="0.7" stroke-width="0.6" stroke-dasharray="2.47 1.07" fill="none"/>
<path d="M407.25 573.80v3.2M460.03 573.80v3.2M512.81 573.80v3.2M565.59 573.80v3.2M618.37 573.80v3.2M671.15 573.80v3.2M394.05 557.48h-3.2M394.05 503.98h-3.2M394.05 450.47h-3.2M394.05 396.97h-3.2M394.05 343.47h-3.2" stroke="#000" stroke-width="1" fill="none"/>
<rect x="394.05" y="332.50" width="290.30" height="241.30" fill="none" stroke="#000" stroke-width="0.85"/>
<g font-family="'DejaVu Sans', 'Liberation Sans', sans-serif" font-size="7.8" fill="#000">
<text x="407.25" y="586.20" transform="rotate(0.04 407.25 586.20)" text-anchor="middle" textLength="13.4" lengthAdjust="spacingAndGlyphs">0.0</text>
<text x="460.03" y="586.20" transform="rotate(0.04 460.03 586.20)" text-anchor="middle" textLength="13.4" lengthAdjust="spacingAndGlyphs">0.2</text>
<text x="512.81" y="586.20" transform="rotate(0.04 512.81 586.20)" text-anchor="middle" textLength="13.4" lengthAdjust="spacingAndGlyphs">0.4</text>
<text x="565.59" y="586.20" transform="rotate(0.04 565.59 586.20)" text-anchor="middle" textLength="13.4" lengthAdjust="spacingAndGlyphs">0.6</text>
<text x="618.37" y="586.20" transform="rotate(0.04 618.37 586.20)" text-anchor="middle" textLength="13.4" lengthAdjust="spacingAndGlyphs">0.8</text>
<text x="671.15" y="586.20" transform="rotate(0.04 671.15 586.20)" text-anchor="middle" textLength="13.4" lengthAdjust="spacingAndGlyphs">1.0</text>
<text x="388.25" y="560.53" transform="rotate(0.04 388.25 560.53)" text-anchor="end" textLength="13.4" lengthAdjust="spacingAndGlyphs">0.2</text>
<text x="388.25" y="507.03" transform="rotate(0.04 388.25 507.03)" text-anchor="end" textLength="13.4" lengthAdjust="spacingAndGlyphs">0.4</text>
<text x="388.25" y="453.52" transform="rotate(0.04 388.25 453.52)" text-anchor="end" textLength="13.4" lengthAdjust="spacingAndGlyphs">0.6</text>
<text x="388.25" y="400.02" transform="rotate(0.04 388.25 400.02)" text-anchor="end" textLength="13.4" lengthAdjust="spacingAndGlyphs">0.8</text>
<text x="388.25" y="346.52" transform="rotate(0.04 388.25 346.52)" text-anchor="end" textLength="13.4" lengthAdjust="spacingAndGlyphs">1.0</text>
</g>
<text x="538.70" y="597.95" transform="rotate(0.04 538.70 597.95)" text-anchor="middle" word-spacing="0.5" font-family="'DejaVu Sans', 'Liberation Sans', sans-serif" font-size="9.2" fill="#000">Normalized Gray Value <tspan font-family="'Liberation Serif', 'DejaVu Serif', serif" font-size="9.2" dx="-0.1" class="m">(<tspan font-style="italic">s</tspan>)</tspan></text>
<text transform="translate(369.85 453.15) rotate(-90)" text-anchor="middle" word-spacing="0.5" font-family="'DejaVu Sans', 'Liberation Sans', sans-serif" font-size="9.2" fill="#000">Non-affiliation degree function</text>
<g class="m" fill="#000" font-size="10">
<text x="527.00" y="322.20" transform="rotate(0.04 527.00 322.20)" font-family="'Liberation Serif', 'DejaVu Serif', serif" font-style="italic">κ</text>
<text x="532.70" y="318.50" transform="rotate(0.04 532.70 318.50)" font-family="'Liberation Serif', 'DejaVu Serif', serif" font-style="italic" font-size="7">U</text>
<text x="531.60" y="324.90" transform="rotate(0.04 531.60 324.90)" font-family="'DejaVu Sans', 'DejaVu Math TeX Gyre', 'Liberation Serif', serif" font-size="6.5" textLength="8.1" lengthAdjust="spacingAndGlyphs" style="stroke-width:0.14px">ℳ</text>
<text x="540.40" y="321.70" transform="rotate(0.04 540.40 321.70)" font-family="'Liberation Serif', 'DejaVu Serif', serif" font-size="9.2">(</text>
<text x="543.80" y="322.20" transform="rotate(0.04 543.80 322.20)" font-family="'Liberation Serif', 'DejaVu Serif', serif" font-style="italic">s</text>
<text x="547.80" y="321.70" transform="rotate(0.04 547.80 321.70)" font-family="'Liberation Serif', 'DejaVu Serif', serif" font-size="9.2">)</text>
</g>
<rect x="625.55" y="336.45" width="55.3" height="67.6" rx="1.7" fill="#fff" stroke="#c6c6c6" stroke-width="0.8"/>
<g font-family="'DejaVu Sans', 'Liberation Sans', sans-serif" font-size="7.5" fill="#000">
<path d="M627.85 342.05h16.6" stroke="#ff0000" stroke-width="1.3"/>
<text x="649.55" y="344.75" transform="rotate(0.04 649.55 344.75)" >σ=0.1</text>
<path d="M627.85 353.09h16.6" stroke="#0000ff" stroke-width="1.3"/>
<text x="649.55" y="355.79" transform="rotate(0.04 649.55 355.79)" >σ=0.15</text>
<path d="M627.85 364.13h16.6" stroke="#008000" stroke-width="1.3"/>
<text x="649.55" y="366.83" transform="rotate(0.04 649.55 366.83)" >σ=0.2</text>
<path d="M627.85 375.17h16.6" stroke="#800080" stroke-width="1.3"/>
<text x="649.55" y="377.87" transform="rotate(0.04 649.55 377.87)" >σ=0.25</text>
<path d="M627.85 386.21h16.6" stroke="#ffa500" stroke-width="1.3"/>
<text x="649.55" y="388.91" transform="rotate(0.04 649.55 388.91)" >σ=0.3</text>
<path d="M627.85 397.25h16.6" stroke="#a52a2a" stroke-width="1.3"/>
<text x="649.55" y="399.95" transform="rotate(0.04 649.55 399.95)" >σ=0.35</text>
</g>
</g>
</svg>
</body></html>
